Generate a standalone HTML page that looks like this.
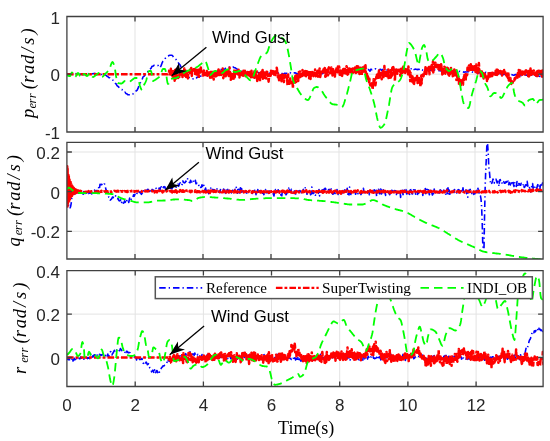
<!DOCTYPE html><html><head><meta charset="utf-8"><style>html,body{margin:0;padding:0;background:#fff}svg{display:block}.tl{font-family:"Liberation Sans",Arial,sans-serif;font-size:17px;fill:#262626}.an{font-family:"Liberation Sans",Arial,sans-serif;font-size:16.7px;fill:#000}.sf{font-family:"Liberation Serif","Times New Roman",serif;fill:#000}</style></head><body>
<svg width="550" height="441" viewBox="0 0 550 441">
<rect width="550" height="441" fill="#fff"/>
<defs>
<clipPath id="c0"><rect x="66.9" y="16.5" width="476.20000000000005" height="115.5"/></clipPath>
<clipPath id="c1"><rect x="66.9" y="142.3" width="476.20000000000005" height="116.69999999999999"/></clipPath>
<clipPath id="c2"><rect x="66.9" y="270.6" width="476.20000000000005" height="115.89999999999998"/></clipPath>
</defs>
<path d="M135.0 16.5V132.0M203.0 16.5V132.0M271.0 16.5V132.0M339.0 16.5V132.0M407.0 16.5V132.0M475.0 16.5V132.0M66.9 74.2H543.1" stroke="#e3e3e3" stroke-width="1" fill="none"/>
<path d="M135.0 142.3V259.0M203.0 142.3V259.0M271.0 142.3V259.0M339.0 142.3V259.0M407.0 142.3V259.0M475.0 142.3V259.0M66.9 152.0H543.1M66.9 191.7H543.1M66.9 231.3H543.1" stroke="#e3e3e3" stroke-width="1" fill="none"/>
<path d="M135.2 270.6V386.5M203.4 270.6V386.5M271.5 270.6V386.5M339.7 270.6V386.5M407.9 270.6V386.5M476.1 270.6V386.5M66.9 314.1H543.1M66.9 357.5H543.1" stroke="#e3e3e3" stroke-width="1" fill="none"/>
<path clip-path="url(#c0)" d="M67.0 74.3L68.0 74.8L69.0 74.8L70.0 74.1L71.0 74.2L72.0 74.1L73.0 74.5L74.0 74.3L75.0 74.6L76.0 73.6L77.0 74.9L78.0 74.3L79.0 74.6L80.0 74.2L81.0 74.1L82.0 74.5L83.0 74.6L84.0 74.2L85.0 74.2L86.0 74.5L87.0 73.8L88.0 73.5L89.0 74.3L90.0 73.8L91.0 73.3L92.0 73.7L93.0 73.8L94.0 73.5L95.0 73.4L96.0 74.0L97.0 74.4L98.0 74.0L99.0 73.8L100.0 74.4L101.0 74.6L102.0 74.3L103.0 74.7L104.0 75.1L105.0 75.0L106.0 75.2L107.0 76.2L108.0 76.8L109.0 77.8L110.0 77.7L111.0 78.7L112.0 79.6L113.0 80.2L114.0 82.0L115.0 83.2L116.0 83.7L117.0 85.6L118.0 86.4L119.0 87.3L120.0 88.2L121.0 89.4L122.0 89.5L123.0 91.3L124.0 92.2L125.0 92.1L126.0 93.6L127.0 93.9L128.0 94.8L129.0 94.7L130.0 95.0L131.0 95.0L132.0 94.0L133.0 93.9L134.0 93.0L135.0 92.4L136.0 91.0L137.0 90.4L138.0 88.4L139.0 85.5L140.0 83.3L141.0 81.5L142.0 79.9L143.0 76.9L144.0 76.4L145.0 74.8L146.0 73.3L147.0 71.7L148.0 71.5L149.0 69.4L150.0 69.0L151.0 68.3L152.0 66.4L153.0 66.3L154.0 65.3L155.0 65.5L156.0 65.7L157.0 65.9L158.0 65.4L159.0 67.2L160.0 67.6L161.0 65.9L162.0 63.2L163.0 61.2L164.0 60.2L165.0 58.8L166.0 57.5L167.0 56.2L168.0 56.0L169.0 55.6L170.0 55.2L171.0 55.2L172.0 55.3L173.0 56.3L174.0 58.0L175.0 58.7L176.0 59.4L177.0 61.5L178.0 62.1L179.0 63.8L180.0 64.8L181.0 66.8L182.0 68.4L183.0 71.3L184.0 73.4L185.0 73.5L186.0 74.7L187.0 76.2L188.0 76.5L189.0 77.4L190.0 77.9L191.0 78.4L192.0 79.1L193.0 78.9L194.0 79.4L195.0 78.8L196.0 78.8L197.0 77.3L198.0 77.0L199.0 77.3L200.0 76.2L201.0 75.9L202.0 75.2L203.0 74.9L204.0 74.3L205.0 74.2L206.0 73.5L207.0 73.2L208.0 73.0L209.0 73.0L210.0 72.5L211.0 72.6L212.0 72.5L213.0 72.5L214.0 72.0L215.0 71.1L216.0 71.6L217.0 71.4L218.0 71.4L219.0 70.9L220.0 70.0L221.0 69.5L222.0 70.1L223.0 69.2L224.0 69.2L225.0 69.0L226.0 67.4L227.0 67.5L228.0 67.3L229.0 67.2L230.0 67.3L231.0 67.2L232.0 67.4L233.0 66.9L234.0 67.7L235.0 67.7L236.0 68.5L237.0 68.9L238.0 70.1L239.0 70.9L240.0 71.1L241.0 71.4L242.0 71.5L243.0 71.5L244.0 71.8L245.0 71.8L246.0 72.3L247.0 72.3L248.0 72.6L249.0 71.9L250.0 72.9L251.0 72.2L252.0 72.3L253.0 72.5L254.0 72.4L255.0 72.8L256.0 72.5L257.0 72.3L258.0 72.4L259.0 73.3L260.0 72.8L261.0 72.4L262.0 72.9L263.0 72.3L264.0 73.6L265.0 72.3L266.0 73.1L267.0 73.2L268.0 72.4L269.0 73.1L270.0 73.4L271.0 73.2L272.0 73.1L273.0 73.4L274.0 73.1L275.0 73.2L276.0 73.1L277.0 73.4L278.0 72.8L279.0 73.5L280.0 73.0L281.0 72.8L282.0 73.4L283.0 74.0L284.0 73.7L285.0 73.1L286.0 73.6L287.0 73.2L288.0 73.3L289.0 73.4L290.0 72.5L291.0 73.5L292.0 73.0L293.0 73.2L294.0 72.9L295.0 72.9L296.0 73.1L297.0 73.8L298.0 74.2L299.0 73.5L300.0 73.9L301.0 73.4L302.0 72.7L303.0 73.5L304.0 73.7L305.0 73.3L306.0 73.6L307.0 73.7L308.0 73.1L309.0 72.8L310.0 73.3L311.0 73.2L312.0 73.1L313.0 73.6L314.0 73.9L315.0 73.0L316.0 73.4L317.0 73.5L318.0 73.3L319.0 73.4L320.0 72.8L321.0 73.2L322.0 73.7L323.0 73.2L324.0 72.5L325.0 73.0L326.0 73.2L327.0 72.8L328.0 72.4L329.0 73.2L330.0 72.0L331.0 72.7L332.0 72.4L333.0 71.9L334.0 72.7L335.0 72.3L336.0 71.6L337.0 72.3L338.0 71.8L339.0 71.1L340.0 71.5L341.0 71.8L342.0 71.9L343.0 71.6L344.0 71.5L345.0 71.5L346.0 71.2L347.0 71.7L348.0 71.2L349.0 71.2L350.0 71.2L351.0 70.5L352.0 70.6L353.0 71.4L354.0 70.9L355.0 70.6L356.0 70.7L357.0 70.4L358.0 70.6L359.0 70.1L360.0 70.5L361.0 69.6L362.0 70.7L363.0 69.9L364.0 69.5L365.0 69.9L366.0 69.8L367.0 70.0L368.0 69.4L369.0 70.0L370.0 71.2L371.0 69.2L372.0 69.8L373.0 69.5L374.0 69.7L375.0 68.8L376.0 69.1L377.0 69.7L378.0 69.5L379.0 70.2L380.0 69.2L381.0 69.6L382.0 70.7L383.0 69.2L384.0 69.2L385.0 69.6L386.0 69.6L387.0 70.0L388.0 69.7L389.0 69.4L390.0 69.8L391.0 70.8L392.0 70.3L393.0 68.7L394.0 69.8L395.0 69.6L396.0 70.2L397.0 69.9L398.0 70.8L399.0 70.4L400.0 70.4L401.0 70.0L402.0 69.9L403.0 69.9L404.0 70.2L405.0 69.7L406.0 69.2L407.0 69.7L408.0 69.2L409.0 69.0L410.0 68.7L411.0 68.8L412.0 68.8L413.0 67.9L414.0 69.5L415.0 69.3L416.0 69.1L417.0 69.6L418.0 69.4L419.0 69.5L420.0 68.4L421.0 69.3L422.0 69.7L423.0 70.2L424.0 70.4L425.0 70.3L426.0 69.3L427.0 69.0L428.0 70.1L429.0 70.0L430.0 70.4L431.0 70.0L432.0 70.2L433.0 69.6L434.0 70.4L435.0 70.1L436.0 70.4L437.0 70.5L438.0 70.4L439.0 70.6L440.0 70.5L441.0 70.9L442.0 70.8L443.0 70.4L444.0 70.5L445.0 71.4L446.0 70.8L447.0 71.2L448.0 71.1L449.0 70.7L450.0 70.7L451.0 71.1L452.0 71.2L453.0 71.4L454.0 70.7L455.0 71.0L456.0 71.3L457.0 72.0L458.0 70.5L459.0 71.6L460.0 71.3L461.0 71.7L462.0 71.4L463.0 71.8L464.0 72.3L465.0 71.9L466.0 72.0L467.0 72.0L468.0 71.6L469.0 72.1L470.0 71.9L471.0 71.7L472.0 72.1L473.0 72.0L474.0 72.5L475.0 72.2L476.0 72.1L477.0 72.9L478.0 72.8L479.0 72.9L480.0 72.7L481.0 72.5L482.0 72.5L483.0 72.6L484.0 73.2L485.0 72.9L486.0 72.3L487.0 73.0L488.0 72.5L489.0 73.2L490.0 72.8L491.0 72.8L492.0 73.5L493.0 73.5L494.0 72.9L495.0 74.0L496.0 74.6L497.0 73.2L498.0 74.6L499.0 73.7L500.0 73.8L501.0 74.0L502.0 73.5L503.0 74.7L504.0 74.4L505.0 74.0L506.0 74.2L507.0 73.8L508.0 74.3L509.0 74.9L510.0 73.8L511.0 74.4L512.0 74.7L513.0 75.1L514.0 75.3L515.0 74.6L516.0 74.5L517.0 75.0L518.0 74.8L519.0 74.8L520.0 75.4L521.0 75.7L522.0 75.2L523.0 75.1L524.0 75.4L525.0 74.5L526.0 75.3L527.0 74.9L528.0 76.3L529.0 75.7L530.0 75.5L531.0 75.4L532.0 74.5L533.0 75.9L534.0 76.3L535.0 75.4L536.0 76.0L537.0 76.0L538.0 75.2L539.0 76.2L540.0 76.4L541.0 76.0L542.0 75.9L543.0 76.3L544.0 75.4" stroke="#0000ff" stroke-width="1.6" fill="none" stroke-dasharray="6.5 3 1.3 3" stroke-linejoin="round"/>
<path clip-path="url(#c0)" d="M67.0 74.3L67.3 74.3L67.6 74.3L67.9 74.3L68.2 74.3L68.5 74.3L68.8 74.3L69.1 74.3L69.4 74.3L69.7 74.3L70.0 74.3L70.3 74.3L70.6 74.3L70.9 74.3L71.2 74.3L71.5 74.3L71.8 74.3L72.1 74.3L72.4 74.3L72.7 74.3L73.0 74.3L73.3 74.3L73.6 74.3L73.9 74.3L74.2 74.3L74.5 74.3L74.8 74.3L75.1 74.3L75.4 74.3L75.7 74.3L76.0 74.3L76.3 74.3L76.6 74.3L76.9 74.3L77.2 74.3L77.5 74.3L77.8 74.3L78.1 74.3L78.4 74.3L78.7 74.3L79.0 74.3L79.3 74.3L79.6 74.3L79.9 74.3L80.2 74.3L80.5 74.3L80.8 74.3L81.1 74.3L81.4 74.3L81.7 74.3L82.0 74.3L82.3 74.3L82.6 74.3L82.9 74.3L83.2 74.3L83.5 74.3L83.8 74.3L84.1 74.3L84.4 74.3L84.7 74.3L85.0 74.3L85.3 74.3L85.6 74.3L85.9 74.3L86.2 74.3L86.5 74.3L86.8 74.3L87.1 74.3L87.4 74.3L87.7 74.3L88.0 74.3L88.3 74.3L88.6 74.3L88.9 74.3L89.2 74.3L89.5 74.3L89.8 74.3L90.1 74.3L90.4 74.3L90.7 74.3L91.0 74.3L91.3 74.3L91.6 74.3L91.9 74.3L92.2 74.3L92.5 74.3L92.8 74.3L93.1 74.3L93.4 74.3L93.7 74.3L94.0 74.3L94.3 74.3L94.6 74.3L94.9 74.3L95.2 74.3L95.5 74.3L95.8 74.3L96.1 74.3L96.4 74.3L96.7 74.3L97.0 74.3L97.3 74.3L97.6 74.3L97.9 74.3L98.2 74.3L98.5 74.3L98.8 74.3L99.1 74.3L99.4 74.3L99.7 74.3L100.0 74.3L100.3 74.3L100.6 74.3L100.9 74.3L101.2 74.3L101.5 74.3L101.8 74.3L102.1 74.3L102.4 74.3L102.7 74.3L103.0 74.3L103.3 74.3L103.6 74.3L103.9 74.3L104.2 74.3L104.5 74.3L104.8 74.3L105.1 74.3L105.4 74.3L105.7 74.3L106.0 74.3L106.3 74.3L106.6 74.3L106.9 74.3L107.2 74.3L107.5 74.3L107.8 74.3L108.1 74.3L108.4 74.3L108.7 74.3L109.0 74.3L109.3 74.3L109.6 74.3L109.9 74.3L110.2 74.3L110.5 74.3L110.8 74.3L111.1 74.3L111.4 74.3L111.7 74.3L112.0 74.3L112.3 74.3L112.6 74.3L112.9 74.3L113.2 74.3L113.5 74.3L113.8 74.3L114.1 74.3L114.4 74.3L114.7 74.3L115.0 74.3L115.3 74.3L115.6 74.3L115.9 74.3L116.2 74.3L116.5 74.3L116.8 74.3L117.1 74.3L117.4 74.3L117.7 74.3L118.0 74.3L118.3 74.3L118.6 74.3L118.9 74.3L119.2 74.3L119.5 74.3L119.8 74.3L120.1 74.3L120.4 74.3L120.7 74.3L121.0 74.3L121.3 74.3L121.6 74.3L121.9 74.3L122.2 74.3L122.5 74.3L122.8 74.3L123.1 74.3L123.4 74.3L123.7 74.3L124.0 74.3L124.3 74.3L124.6 74.3L124.9 74.3L125.2 74.3L125.5 74.3L125.8 74.3L126.1 74.3L126.4 74.3L126.7 74.3L127.0 74.3L127.3 74.3L127.6 74.3L127.9 74.3L128.2 74.3L128.5 74.3L128.8 74.3L129.1 74.3L129.4 74.3L129.7 74.3L130.0 74.3L130.3 74.3L130.6 74.3L130.9 74.3L131.2 74.3L131.5 74.3L131.8 74.3L132.1 74.3L132.4 74.3L132.7 74.3L133.0 74.3L133.3 74.3L133.6 74.3L133.9 74.3L134.2 74.3L134.5 74.3L134.8 74.3L135.1 74.3L135.4 74.3L135.7 74.3L136.0 74.3L136.3 74.3L136.6 74.3L136.9 74.3L137.2 74.3L137.5 74.3L137.8 74.3L138.1 74.3L138.4 74.3L138.7 74.3L139.0 74.3L139.3 74.3L139.6 74.3L139.9 74.3L140.2 74.3L140.5 74.3L140.8 74.3L141.1 74.3L141.4 74.3L141.7 74.3L142.0 74.3L142.3 74.3L142.6 74.3L142.9 74.3L143.2 74.3L143.5 74.3L143.8 74.3L144.1 74.3L144.4 74.3L144.7 74.3L145.0 74.3L145.3 74.3L145.6 74.3L145.9 74.3L146.2 74.3L146.5 74.3L146.8 74.3L147.1 74.3L147.4 74.3L147.7 74.3L148.0 74.3L148.3 74.3L148.6 74.3L148.9 74.3L149.2 74.3L149.5 74.3L149.8 74.3L150.1 74.3L150.4 74.3L150.7 74.3L151.0 74.3L151.3 74.3L151.6 74.3L151.9 74.3L152.2 74.3L152.5 74.3L152.8 74.3L153.1 74.3L153.4 74.3L153.7 74.3L154.0 74.3L154.3 74.3L154.6 74.3L154.9 74.3L155.2 74.3L155.5 74.3L155.8 74.3L156.1 74.3L156.4 74.3L156.7 74.3L157.0 74.3L157.3 74.3L157.6 74.3L157.9 74.3L158.2 74.3L158.5 74.3L158.8 74.3L159.1 74.3L159.4 74.3L159.7 74.3L160.0 74.3L160.3 74.3L160.6 74.3L160.9 74.3L161.2 74.3L161.5 74.3L161.8 74.3L162.1 74.3L162.4 74.3L162.7 74.3L163.0 74.3L163.3 74.3L163.6 74.3L163.9 74.3L164.2 74.3L164.5 74.3L164.8 74.3L165.1 74.3L165.4 74.3L165.7 74.3L166.0 74.3L166.3 74.3L166.6 74.3L166.9 74.3L167.2 74.3L167.5 74.3L167.8 74.3L168.1 74.0L168.4 73.8L168.7 73.7L169.0 72.3L169.3 69.7L169.6 70.8L169.9 74.4L170.2 74.5L170.5 70.3L170.8 68.8L171.1 70.9L171.4 71.4L171.7 70.5L172.0 71.2L172.3 74.3L172.6 76.5L172.9 69.0L173.2 77.8L173.5 76.3L173.8 78.8L174.1 75.8L174.4 76.9L174.7 80.8L175.0 70.1L175.3 79.9L175.6 76.2L175.9 72.0L176.2 69.5L176.5 76.8L176.8 74.1L177.1 78.7L177.4 77.8L177.7 75.9L178.0 78.1L178.3 76.0L178.6 77.4L178.9 76.7L179.2 75.1L179.5 77.0L179.8 76.6L180.1 72.2L180.4 74.4L180.7 74.2L181.0 73.9L181.3 71.8L181.6 74.0L181.9 75.2L182.2 74.3L182.5 77.1L182.8 72.0L183.1 71.9L183.4 72.0L183.7 71.9L184.0 71.9L184.3 68.4L184.6 72.9L184.9 75.2L185.2 75.9L185.5 70.6L185.8 72.3L186.1 76.9L186.4 72.5L186.7 73.7L187.0 73.2L187.3 75.3L187.6 75.2L187.9 78.4L188.2 73.4L188.5 74.0L188.8 71.2L189.1 73.0L189.4 71.2L189.7 71.5L190.0 69.9L190.3 74.5L190.6 68.1L190.9 71.0L191.2 67.9L191.5 72.3L191.8 76.0L192.1 68.9L192.4 71.4L192.7 69.9L193.0 70.3L193.3 71.3L193.6 69.3L193.9 70.0L194.2 69.3L194.5 69.1L194.8 69.0L195.1 73.8L195.4 70.3L195.7 73.1L196.0 73.2L196.3 69.7L196.6 74.6L196.9 70.2L197.2 74.6L197.5 76.1L197.8 70.5L198.1 69.8L198.4 70.1L198.7 78.0L199.0 71.9L199.3 69.5L199.6 74.1L199.9 71.5L200.2 72.2L200.5 70.0L200.8 67.4L201.1 70.9L201.4 70.3L201.7 69.7L202.0 70.7L202.3 71.2L202.6 75.5L202.9 74.9L203.2 75.4L203.5 73.0L203.8 70.6L204.1 74.7L204.4 75.4L204.7 77.0L205.0 74.4L205.3 73.8L205.6 74.9L205.9 71.2L206.2 71.5L206.5 74.9L206.8 71.0L207.1 73.5L207.4 75.8L207.7 73.7L208.0 73.7L208.3 70.6L208.6 73.7L208.9 73.8L209.2 74.9L209.5 73.8L209.8 72.6L210.1 77.7L210.4 74.2L210.7 72.4L211.0 71.9L211.3 73.5L211.6 72.2L211.9 77.4L212.2 75.4L212.5 73.4L212.8 72.5L213.1 71.9L213.4 74.5L213.7 79.5L214.0 77.5L214.3 75.4L214.6 75.8L214.9 70.4L215.2 76.1L215.5 73.4L215.8 76.5L216.1 72.5L216.4 72.2L216.7 73.2L217.0 71.0L217.3 75.5L217.6 72.5L217.9 72.1L218.2 71.2L218.5 69.4L218.8 72.3L219.1 70.8L219.4 75.1L219.7 70.8L220.0 71.1L220.3 69.8L220.6 70.5L220.9 71.1L221.2 74.9L221.5 72.7L221.8 74.4L222.1 71.8L222.4 72.2L222.7 68.6L223.0 74.4L223.3 78.2L223.6 72.8L223.9 76.0L224.2 75.1L224.5 72.3L224.8 75.9L225.1 71.3L225.4 72.7L225.7 76.3L226.0 74.2L226.3 70.3L226.6 75.5L226.9 69.9L227.2 72.1L227.5 72.0L227.8 73.1L228.1 70.7L228.4 68.3L228.7 76.0L229.0 70.6L229.3 70.6L229.6 67.6L229.9 72.0L230.2 75.0L230.5 75.9L230.8 79.8L231.1 76.5L231.4 75.2L231.7 73.8L232.0 77.8L232.3 75.3L232.6 75.7L232.9 72.1L233.2 75.8L233.5 80.1L233.8 74.6L234.1 75.9L234.4 68.7L234.7 77.4L235.0 74.4L235.3 75.5L235.6 73.2L235.9 70.4L236.2 69.2L236.5 73.6L236.8 72.3L237.1 69.7L237.4 72.1L237.7 71.2L238.0 74.4L238.3 71.7L238.6 69.8L238.9 73.3L239.2 72.9L239.5 77.4L239.8 73.2L240.1 71.5L240.4 74.7L240.7 74.1L241.0 75.5L241.3 75.1L241.6 72.6L241.9 75.1L242.2 75.2L242.5 73.0L242.8 74.6L243.1 75.7L243.4 70.8L243.7 72.0L244.0 73.1L244.3 74.4L244.6 75.3L244.9 70.7L245.2 73.7L245.5 74.4L245.8 76.3L246.1 72.5L246.4 71.4L246.7 70.8L247.0 75.1L247.3 75.8L247.6 72.0L247.9 74.9L248.2 76.7L248.5 76.5L248.8 72.3L249.1 75.7L249.4 74.3L249.7 71.9L250.0 76.0L250.3 76.2L250.6 72.6L250.9 76.0L251.2 79.3L251.5 70.8L251.8 76.1L252.1 76.6L252.4 74.5L252.7 75.1L253.0 73.0L253.3 77.2L253.6 73.1L253.9 75.0L254.2 71.6L254.5 77.8L254.8 77.6L255.1 72.3L255.4 73.5L255.7 76.3L256.0 74.4L256.3 72.6L256.6 70.3L256.9 76.3L257.2 80.9L257.5 75.0L257.8 76.9L258.1 76.8L258.4 75.4L258.7 75.7L259.0 76.0L259.3 73.6L259.6 81.5L259.9 81.5L260.2 75.4L260.5 78.0L260.8 72.4L261.1 73.3L261.4 76.7L261.7 71.6L262.0 71.3L262.3 75.0L262.6 70.0L262.9 78.8L263.2 77.5L263.5 76.1L263.8 76.8L264.1 72.4L264.4 73.6L264.7 77.2L265.0 77.9L265.3 76.4L265.6 75.2L265.9 73.7L266.2 78.5L266.5 71.8L266.8 72.5L267.1 73.3L267.4 71.9L267.7 72.5L268.0 73.5L268.3 78.8L268.6 81.7L268.9 78.2L269.2 73.1L269.5 75.3L269.8 75.9L270.1 74.7L270.4 74.3L270.7 75.8L271.0 70.8L271.3 73.9L271.6 74.1L271.9 74.8L272.2 74.1L272.5 73.2L272.8 72.5L273.1 71.1L273.4 72.5L273.7 72.3L274.0 71.0L274.3 75.0L274.6 75.6L274.9 71.5L275.2 74.1L275.5 75.0L275.8 72.8L276.1 72.4L276.4 72.8L276.7 67.7L277.0 69.3L277.3 73.4L277.6 74.2L277.9 77.3L278.2 74.0L278.5 77.4L278.8 78.0L279.1 80.3L279.4 75.1L279.7 75.8L280.0 78.0L280.3 77.6L280.6 75.4L280.9 76.1L281.2 73.7L281.5 81.2L281.8 75.5L282.1 76.6L282.4 74.5L282.7 75.6L283.0 77.4L283.3 75.0L283.6 76.0L283.9 82.1L284.2 79.1L284.5 76.8L284.8 75.8L285.1 76.6L285.4 75.0L285.7 77.6L286.0 76.5L286.3 77.3L286.6 78.2L286.9 76.6L287.2 80.0L287.5 85.1L287.8 77.1L288.1 74.6L288.4 81.5L288.7 79.0L289.0 83.8L289.3 81.3L289.6 83.7L289.9 80.8L290.2 78.6L290.5 82.2L290.8 85.0L291.1 82.1L291.4 80.1L291.7 82.2L292.0 82.0L292.3 81.8L292.6 82.6L292.9 88.2L293.2 82.0L293.5 80.9L293.8 79.4L294.1 84.1L294.4 77.9L294.7 84.6L295.0 79.5L295.3 76.1L295.6 79.9L295.9 79.3L296.2 82.0L296.5 75.3L296.8 78.7L297.1 78.5L297.4 79.6L297.7 74.5L298.0 75.3L298.3 81.0L298.6 77.0L298.9 71.9L299.2 76.1L299.5 74.3L299.8 74.0L300.1 71.5L300.4 77.1L300.7 73.6L301.0 75.6L301.3 75.3L301.6 71.5L301.9 72.1L302.2 76.0L302.5 70.0L302.8 74.6L303.1 72.7L303.4 75.2L303.7 75.2L304.0 74.2L304.3 72.6L304.6 73.2L304.9 71.2L305.2 71.0L305.5 75.7L305.8 72.0L306.1 76.3L306.4 74.8L306.7 71.2L307.0 74.6L307.3 71.5L307.6 74.9L307.9 72.0L308.2 74.8L308.5 74.3L308.8 71.7L309.1 78.2L309.4 76.1L309.7 70.6L310.0 75.2L310.3 73.5L310.6 79.0L310.9 73.7L311.2 74.7L311.5 73.6L311.8 74.7L312.1 72.0L312.4 72.1L312.7 73.5L313.0 73.0L313.3 76.2L313.6 73.9L313.9 72.6L314.2 73.4L314.5 72.6L314.8 75.1L315.1 69.5L315.4 72.7L315.7 76.3L316.0 72.9L316.3 73.2L316.6 74.4L316.9 71.5L317.2 71.6L317.5 73.9L317.8 70.7L318.1 76.7L318.4 73.4L318.7 73.1L319.0 73.0L319.3 73.6L319.6 68.6L319.9 75.0L320.2 77.0L320.5 75.5L320.8 72.7L321.1 74.6L321.4 73.9L321.7 71.8L322.0 72.2L322.3 74.3L322.6 73.3L322.9 70.5L323.2 71.1L323.5 71.2L323.8 68.1L324.1 71.7L324.4 71.7L324.7 68.0L325.0 68.5L325.3 76.8L325.6 73.0L325.9 76.3L326.2 71.5L326.5 75.6L326.8 72.4L327.1 70.0L327.4 71.1L327.7 74.2L328.0 75.3L328.3 70.7L328.6 68.1L328.9 67.4L329.2 71.4L329.5 73.2L329.8 71.8L330.1 71.3L330.4 72.8L330.7 72.8L331.0 71.8L331.3 67.4L331.6 69.8L331.9 74.6L332.2 70.4L332.5 75.5L332.8 70.8L333.1 69.2L333.4 71.2L333.7 72.7L334.0 70.0L334.3 72.3L334.6 71.7L334.9 76.6L335.2 71.1L335.5 72.6L335.8 68.9L336.1 68.6L336.4 71.8L336.7 69.5L337.0 70.4L337.3 71.8L337.6 72.2L337.9 66.6L338.2 69.7L338.5 70.8L338.8 68.3L339.1 66.6L339.4 68.2L339.7 74.7L340.0 71.3L340.3 74.9L340.6 70.5L340.9 74.8L341.2 69.0L341.5 71.4L341.8 72.4L342.1 75.9L342.4 72.1L342.7 73.7L343.0 69.7L343.3 69.1L343.6 72.9L343.9 73.3L344.2 72.0L344.5 72.2L344.8 67.3L345.1 75.0L345.4 70.2L345.7 73.5L346.0 72.0L346.3 66.4L346.6 66.3L346.9 67.5L347.2 71.4L347.5 74.7L347.8 71.1L348.1 74.2L348.4 68.7L348.7 70.0L349.0 69.3L349.3 71.7L349.6 68.6L349.9 70.7L350.2 72.3L350.5 70.2L350.8 69.2L351.1 70.5L351.4 68.2L351.7 69.5L352.0 73.8L352.3 72.9L352.6 68.4L352.9 71.9L353.2 72.7L353.5 72.3L353.8 71.8L354.1 71.2L354.4 68.3L354.7 68.1L355.0 67.5L355.3 71.4L355.6 70.2L355.9 73.0L356.2 72.3L356.5 68.5L356.8 66.2L357.1 66.3L357.4 68.8L357.7 72.1L358.0 67.8L358.3 66.5L358.6 71.5L358.9 73.0L359.2 72.2L359.5 74.1L359.8 70.4L360.1 69.7L360.4 70.0L360.7 67.8L361.0 69.7L361.3 74.2L361.6 75.8L361.9 72.8L362.2 70.0L362.5 68.5L362.8 70.8L363.1 66.2L363.4 72.5L363.7 73.4L364.0 70.9L364.3 70.1L364.6 66.3L364.9 73.2L365.2 73.0L365.5 65.2L365.8 71.8L366.1 75.0L366.4 77.7L366.7 72.0L367.0 75.1L367.3 79.0L367.6 76.9L367.9 76.4L368.2 77.8L368.5 80.1L368.8 78.8L369.1 83.6L369.4 78.8L369.7 82.5L370.0 84.3L370.3 85.3L370.6 83.8L370.9 83.2L371.2 83.7L371.5 83.4L371.8 86.3L372.1 83.5L372.4 87.9L372.7 89.6L373.0 81.5L373.3 83.7L373.6 79.2L373.9 84.1L374.2 83.1L374.5 81.0L374.8 79.4L375.1 80.7L375.4 85.3L375.7 83.4L376.0 80.3L376.3 76.6L376.6 77.8L376.9 75.0L377.2 74.5L377.5 75.0L377.8 79.6L378.1 77.7L378.4 76.4L378.7 72.9L379.0 70.6L379.3 75.8L379.6 73.1L379.9 77.4L380.2 72.3L380.5 77.1L380.8 75.3L381.1 73.7L381.4 73.0L381.7 79.3L382.0 76.3L382.3 74.0L382.6 74.3L382.9 71.3L383.2 78.8L383.5 77.0L383.8 71.7L384.1 74.0L384.4 66.0L384.7 74.8L385.0 74.0L385.3 74.5L385.6 75.8L385.9 74.7L386.2 71.9L386.5 72.8L386.8 72.9L387.1 76.3L387.4 73.9L387.7 72.1L388.0 75.2L388.3 69.4L388.6 78.1L388.9 73.7L389.2 71.4L389.5 74.3L389.8 77.2L390.1 76.3L390.4 79.1L390.7 70.2L391.0 77.2L391.3 73.0L391.6 74.6L391.9 75.8L392.2 68.3L392.5 67.6L392.8 70.5L393.1 68.3L393.4 67.1L393.7 72.2L394.0 75.6L394.3 71.9L394.6 73.3L394.9 81.2L395.2 71.9L395.5 69.8L395.8 69.9L396.1 71.3L396.4 69.4L396.7 72.0L397.0 71.1L397.3 73.8L397.6 72.3L397.9 71.0L398.2 69.6L398.5 68.6L398.8 70.5L399.1 69.7L399.4 71.4L399.7 70.6L400.0 70.0L400.3 75.7L400.6 70.7L400.9 74.2L401.2 67.5L401.5 71.9L401.8 72.4L402.1 70.8L402.4 67.2L402.7 72.8L403.0 67.8L403.3 65.3L403.6 65.2L403.9 69.3L404.2 68.2L404.5 71.9L404.8 71.1L405.1 72.9L405.4 69.8L405.7 69.3L406.0 69.4L406.3 68.1L406.6 67.9L406.9 68.9L407.2 71.7L407.5 69.2L407.8 71.4L408.1 74.5L408.4 66.5L408.7 70.1L409.0 70.6L409.3 73.2L409.6 70.9L409.9 73.1L410.2 81.1L410.5 72.7L410.8 76.7L411.1 78.6L411.4 78.5L411.7 76.1L412.0 81.4L412.3 74.9L412.6 77.5L412.9 79.2L413.2 78.1L413.5 83.1L413.8 79.8L414.1 84.0L414.4 78.8L414.7 82.4L415.0 79.0L415.3 78.1L415.6 78.7L415.9 82.0L416.2 78.8L416.5 79.9L416.8 78.8L417.1 76.0L417.4 82.5L417.7 83.0L418.0 77.9L418.3 82.7L418.6 80.5L418.9 76.5L419.2 78.2L419.5 81.6L419.8 82.4L420.1 80.6L420.4 87.1L420.7 80.5L421.0 77.6L421.3 75.6L421.6 83.8L421.9 78.5L422.2 77.6L422.5 75.2L422.8 74.6L423.1 75.4L423.4 76.4L423.7 75.6L424.0 74.2L424.3 75.5L424.6 72.0L424.9 70.0L425.2 71.7L425.5 67.2L425.8 75.3L426.1 74.4L426.4 73.8L426.7 69.0L427.0 70.6L427.3 70.5L427.6 66.7L427.9 66.8L428.2 67.9L428.5 68.2L428.8 67.1L429.1 70.8L429.4 74.3L429.7 69.8L430.0 66.9L430.3 66.6L430.6 71.2L430.9 68.2L431.2 67.8L431.5 67.0L431.8 64.9L432.1 70.5L432.4 66.0L432.7 66.3L433.0 61.2L433.3 72.4L433.6 69.2L433.9 67.2L434.2 65.5L434.5 65.4L434.8 61.6L435.1 66.1L435.4 62.7L435.7 64.8L436.0 64.7L436.3 69.1L436.6 64.5L436.9 66.1L437.2 65.8L437.5 63.7L437.8 63.8L438.1 65.8L438.4 69.2L438.7 68.2L439.0 65.3L439.3 68.7L439.6 65.4L439.9 63.4L440.2 71.7L440.5 67.9L440.8 66.4L441.1 64.3L441.4 66.0L441.7 70.8L442.0 67.5L442.3 74.4L442.6 69.9L442.9 73.9L443.2 70.9L443.5 68.8L443.8 69.2L444.1 69.6L444.4 66.7L444.7 67.1L445.0 71.0L445.3 73.7L445.6 71.3L445.9 70.6L446.2 68.3L446.5 73.2L446.8 73.3L447.1 67.7L447.4 70.3L447.7 69.7L448.0 66.7L448.3 74.5L448.6 73.5L448.9 72.7L449.2 75.7L449.5 70.7L449.8 72.3L450.1 74.0L450.4 69.9L450.7 71.5L451.0 68.1L451.3 72.7L451.6 74.2L451.9 69.3L452.2 69.6L452.5 72.3L452.8 76.3L453.1 71.1L453.4 70.3L453.7 72.7L454.0 75.5L454.3 69.5L454.6 72.7L454.9 75.3L455.2 72.5L455.5 71.8L455.8 75.1L456.1 70.4L456.4 79.9L456.7 76.7L457.0 75.8L457.3 77.3L457.6 77.8L457.9 77.7L458.2 76.2L458.5 80.7L458.8 77.1L459.1 85.6L459.4 79.5L459.7 81.0L460.0 80.3L460.3 83.8L460.6 80.4L460.9 85.2L461.2 80.4L461.5 82.0L461.8 80.5L462.1 80.6L462.4 84.7L462.7 84.5L463.0 84.6L463.3 77.4L463.6 82.0L463.9 76.7L464.2 76.5L464.5 74.8L464.8 77.1L465.1 80.1L465.4 81.2L465.7 80.8L466.0 74.1L466.3 74.2L466.6 76.0L466.9 75.2L467.2 74.6L467.5 67.8L467.8 70.6L468.1 72.2L468.4 70.6L468.7 68.2L469.0 65.5L469.3 66.2L469.6 70.0L469.9 67.2L470.2 68.6L470.5 70.4L470.8 64.3L471.1 68.9L471.4 67.8L471.7 71.0L472.0 67.1L472.3 66.8L472.6 66.4L472.9 69.0L473.2 68.1L473.5 68.9L473.8 69.8L474.1 68.0L474.4 66.2L474.7 67.8L475.0 67.6L475.3 70.4L475.6 71.9L475.9 69.0L476.2 64.6L476.5 71.5L476.8 70.0L477.1 68.8L477.4 69.6L477.7 73.5L478.0 66.7L478.3 67.7L478.6 69.1L478.9 63.1L479.2 68.5L479.5 71.4L479.8 71.0L480.1 71.2L480.4 70.3L480.7 71.3L481.0 77.5L481.3 73.1L481.6 76.1L481.9 71.6L482.2 74.4L482.5 75.1L482.8 75.2L483.1 71.6L483.4 74.8L483.7 78.6L484.0 77.2L484.3 75.5L484.6 78.9L484.9 74.0L485.2 78.2L485.5 78.0L485.8 77.1L486.1 75.7L486.4 74.3L486.7 77.3L487.0 81.1L487.3 79.3L487.6 78.3L487.9 78.9L488.2 75.7L488.5 77.5L488.8 71.3L489.1 75.6L489.4 74.9L489.7 75.4L490.0 74.8L490.3 76.4L490.6 73.5L490.9 75.7L491.2 72.9L491.5 76.1L491.8 75.2L492.1 76.1L492.4 75.6L492.7 72.8L493.0 73.9L493.3 72.0L493.6 74.1L493.9 74.0L494.2 72.5L494.5 72.4L494.8 74.3L495.1 74.6L495.4 74.8L495.7 70.7L496.0 71.0L496.3 73.2L496.6 72.8L496.9 68.2L497.2 74.9L497.5 74.1L497.8 70.0L498.1 74.0L498.4 70.9L498.7 72.1L499.0 71.0L499.3 71.4L499.6 72.4L499.9 72.7L500.2 71.0L500.5 72.7L500.8 71.5L501.1 72.1L501.4 71.6L501.7 71.5L502.0 75.6L502.3 69.8L502.6 70.8L502.9 73.0L503.2 72.4L503.5 71.0L503.8 73.2L504.1 70.1L504.4 72.3L504.7 73.6L505.0 72.9L505.3 72.3L505.6 73.3L505.9 74.6L506.2 75.3L506.5 72.5L506.8 76.5L507.1 76.2L507.4 78.3L507.7 77.6L508.0 78.0L508.3 72.0L508.6 76.4L508.9 80.6L509.2 78.6L509.5 77.6L509.8 79.9L510.1 79.1L510.4 80.2L510.7 78.4L511.0 81.6L511.3 83.9L511.6 82.1L511.9 82.2L512.2 81.4L512.5 83.6L512.8 81.7L513.1 79.6L513.4 80.2L513.7 80.2L514.0 80.6L514.3 80.5L514.6 78.8L514.9 78.0L515.2 79.1L515.5 76.7L515.8 77.0L516.1 77.5L516.4 77.0L516.7 75.9L517.0 79.2L517.3 77.3L517.6 75.0L517.9 72.9L518.2 74.1L518.5 75.3L518.8 69.9L519.1 77.9L519.4 73.0L519.7 72.6L520.0 73.9L520.3 70.6L520.6 73.4L520.9 73.0L521.2 73.6L521.5 70.9L521.8 73.8L522.1 74.8L522.4 72.9L522.7 71.7L523.0 71.2L523.3 69.8L523.6 72.3L523.9 74.1L524.2 75.7L524.5 74.8L524.8 74.5L525.1 71.5L525.4 72.0L525.7 70.4L526.0 71.6L526.3 70.4L526.6 72.1L526.9 73.8L527.2 72.5L527.5 72.6L527.8 74.3L528.1 76.1L528.4 75.4L528.7 70.9L529.0 76.5L529.3 72.6L529.6 71.0L529.9 72.8L530.2 75.1L530.5 68.6L530.8 76.1L531.1 73.3L531.4 74.2L531.7 70.9L532.0 71.8L532.3 70.6L532.6 74.0L532.9 71.0L533.2 73.2L533.5 71.6L533.8 70.5L534.1 74.2L534.4 74.3L534.7 74.7L535.0 71.5L535.3 72.7L535.6 73.5L535.9 72.9L536.2 73.0L536.5 76.1L536.8 71.6L537.1 74.2L537.4 72.2L537.7 75.9L538.0 72.9L538.3 70.8L538.6 73.3L538.9 71.8L539.2 71.0L539.5 71.6L539.8 71.0L540.1 73.1L540.4 73.3L540.7 75.0L541.0 71.1L541.3 75.0L541.6 74.0L541.9 71.4L542.2 76.7L542.5 70.6L542.8 74.7L543.1 70.2L543.4 74.0L543.7 72.6L544.0 72.5" stroke="#ff0000" stroke-width="2.5" fill="none" stroke-dasharray="6.6 2 2.8 2.1" stroke-linejoin="round"/>
<path clip-path="url(#c0)" d="M67.0 75.0L67.5 75.4L68.0 75.7L68.5 75.9L69.0 76.0L69.5 76.0L70.0 76.0L70.5 75.5L71.0 74.2L71.5 73.0L72.0 72.5L72.5 72.8L73.0 73.7L73.5 74.8L74.0 75.8L74.5 76.7L75.0 77.0L75.5 76.7L76.0 76.0L76.5 75.0L77.0 74.0L77.5 73.3L78.0 73.0L78.5 73.3L79.0 74.2L79.5 75.2L80.0 76.3L80.5 77.2L81.0 77.5L81.5 77.2L82.0 76.6L82.5 75.8L83.0 74.9L83.5 74.3L84.0 74.0L84.5 74.1L85.0 74.5L85.5 75.0L86.0 75.5L86.5 75.9L87.0 76.0L87.5 75.8L88.0 75.2L88.5 74.5L89.0 73.8L89.5 73.2L90.0 73.0L90.5 73.3L91.0 74.0L91.5 75.0L92.0 76.0L92.5 76.7L93.0 77.0L93.5 76.9L94.0 76.6L94.5 76.2L95.0 75.8L95.5 75.4L96.0 75.0L96.5 74.6L97.0 74.2L97.5 73.8L98.0 73.4L98.5 73.1L99.0 73.0L99.5 73.3L100.0 74.0L100.5 75.0L101.0 76.0L101.5 76.7L102.0 77.0L102.5 76.8L103.0 76.4L103.5 75.9L104.0 75.2L104.5 74.6L105.0 74.0L105.5 73.5L106.0 73.1L106.5 72.6L107.0 72.2L107.5 71.7L108.0 71.2L108.5 70.7L109.0 70.0L109.5 69.0L110.0 67.7L110.5 66.2L111.0 64.6L111.5 63.3L112.0 62.4L112.5 62.0L113.0 62.4L113.5 63.5L114.0 65.0L114.5 66.8L115.0 69.0L115.5 72.7L116.0 76.0L116.5 78.4L117.0 80.6L117.5 82.3L118.0 83.0L118.5 83.1L119.0 83.3L119.5 83.3L120.0 83.4L120.5 83.5L121.0 83.5L121.5 83.5L122.0 83.4L122.5 83.0L123.0 82.5L123.5 82.0L124.0 81.5L124.5 81.1L125.0 81.0L125.5 81.0L126.0 81.2L126.5 81.3L127.0 81.5L127.5 81.7L128.0 81.8L128.5 82.0L129.0 82.0L129.5 81.9L130.0 81.6L130.5 81.2L131.0 80.8L131.5 80.4L132.0 80.0L132.5 79.6L133.0 79.2L133.5 78.8L134.0 78.4L134.5 78.1L135.0 78.0L135.5 78.0L136.0 78.0L136.5 78.0L137.0 78.0L137.5 78.0L138.0 78.0L138.5 79.0L139.0 81.3L139.5 84.0L140.0 86.0L140.5 87.4L141.0 88.7L141.5 89.6L142.0 90.0L142.5 89.4L143.0 88.1L143.5 86.4L144.0 85.0L144.5 84.0L145.0 83.1L145.5 82.1L146.0 81.0L146.5 79.4L147.0 77.3L147.5 75.1L148.0 73.0L148.5 71.6L149.0 71.0L149.5 71.0L150.0 71.0L150.5 71.0L151.0 71.0L151.5 72.6L152.0 76.0L152.5 79.4L153.0 81.0L153.5 80.9L154.0 80.6L154.5 80.3L155.0 80.0L155.5 79.7L156.0 79.3L156.5 79.0L157.0 78.6L157.5 78.2L158.0 77.9L158.5 77.5L159.0 77.1L159.5 76.6L160.0 76.0L160.5 75.0L161.0 73.6L161.5 72.0L162.0 70.5L162.5 69.4L163.0 69.0L163.5 69.0L164.0 69.0L164.5 69.0L165.0 69.0L165.5 70.1L166.0 72.9L166.5 76.5L167.0 80.1L167.5 82.9L168.0 84.0L168.5 83.7L169.0 82.8L169.5 81.6L170.0 80.5L170.5 79.5L171.0 79.0L171.5 78.8L172.0 78.7L172.5 78.6L173.0 78.5L173.5 78.4L174.0 78.4L174.5 78.3L175.0 78.2L175.5 78.1L176.0 78.0L176.5 77.8L177.0 77.6L177.5 77.4L178.0 77.2L178.5 76.9L179.0 76.6L179.5 76.3L180.0 76.0L180.5 75.7L181.0 75.3L181.5 74.9L182.0 74.4L182.5 74.0L183.0 73.5L183.5 73.1L184.0 72.7L184.5 72.3L185.0 72.0L185.5 71.7L186.0 71.5L186.5 71.3L187.0 71.1L187.5 70.9L188.0 70.7L188.5 70.6L189.0 70.4L189.5 70.2L190.0 70.0L190.5 69.8L191.0 69.6L191.5 69.4L192.0 69.2L192.5 69.0L193.0 68.8L193.5 68.6L194.0 68.4L194.5 68.2L195.0 68.0L195.5 67.8L196.0 67.5L196.5 67.3L197.0 67.0L197.5 66.7L198.0 66.4L198.5 66.0L199.0 65.6L199.5 65.2L200.0 64.8L200.5 64.4L201.0 64.0L201.5 63.6L202.0 63.1L202.5 62.6L203.0 62.1L203.5 61.7L204.0 61.3L204.5 61.1L205.0 61.0L205.5 61.3L206.0 62.2L206.5 63.4L207.0 64.9L207.5 66.5L208.0 68.0L208.5 69.9L209.0 72.2L209.5 74.2L210.0 75.0L210.5 74.9L211.0 74.6L211.5 74.1L212.0 73.6L212.5 73.0L213.0 72.4L213.5 71.9L214.0 71.4L214.5 71.1L215.0 71.0L215.5 71.0L216.0 71.1L216.5 71.2L217.0 71.4L217.5 71.6L218.0 71.8L218.5 72.0L219.0 72.2L219.5 72.4L220.0 72.6L220.5 72.8L221.0 72.9L221.5 73.0L222.0 73.0L222.5 72.9L223.0 72.6L223.5 72.2L224.0 71.7L224.5 71.2L225.0 70.7L225.5 70.3L226.0 70.0L226.5 69.8L227.0 69.6L227.5 69.5L228.0 69.3L228.5 69.2L229.0 69.1L229.5 69.0L230.0 69.0L230.5 69.1L231.0 69.3L231.5 69.6L232.0 70.1L232.5 70.5L233.0 70.9L233.5 71.4L234.0 71.7L234.5 71.9L235.0 72.0L235.5 72.0L236.0 71.9L236.5 71.8L237.0 71.6L237.5 71.5L238.0 71.4L238.5 71.2L239.0 71.1L239.5 71.0L240.0 71.0L240.5 71.1L241.0 71.3L241.5 71.6L242.0 72.0L242.5 72.5L243.0 73.0L243.5 73.5L244.0 74.0L244.5 74.5L245.0 75.0L245.5 75.5L246.0 76.0L246.5 76.6L247.0 77.2L247.5 77.8L248.0 78.4L248.5 78.9L249.0 79.5L249.5 79.9L250.0 80.2L250.5 80.4L251.0 80.5L251.5 80.3L252.0 79.6L252.5 78.7L253.0 77.4L253.5 76.0L254.0 74.5L254.5 72.9L255.0 71.3L255.5 69.9L256.0 68.6L256.5 67.4L257.0 66.0L257.5 64.6L258.0 63.2L258.5 61.8L259.0 60.5L259.5 59.2L260.0 58.0L260.5 57.0L261.0 56.2L261.5 55.6L262.0 55.2L262.5 54.9L263.0 54.6L263.5 54.4L264.0 54.3L264.5 54.1L265.0 53.9L265.5 53.7L266.0 53.4L266.5 53.1L267.0 52.6L267.5 51.7L268.0 50.4L268.5 48.9L269.0 47.3L269.5 45.7L270.0 44.2L270.5 42.9L271.0 42.0L271.5 41.1L272.0 40.2L272.5 39.3L273.0 38.5L273.5 37.7L274.0 37.1L274.5 36.5L275.0 36.1L275.5 35.8L276.0 35.7L276.5 35.7L277.0 35.8L277.5 35.9L278.0 36.0L278.5 36.2L279.0 36.4L279.5 36.6L280.0 36.8L280.5 37.1L281.0 37.4L281.5 37.7L282.0 38.0L282.5 38.3L283.0 38.7L283.5 39.2L284.0 39.7L284.5 40.4L285.0 41.1L285.5 42.0L286.0 43.0L286.5 44.3L287.0 46.2L287.5 48.4L288.0 50.8L288.5 53.4L289.0 56.0L289.5 58.7L290.0 61.8L290.5 64.9L291.0 68.0L291.5 71.3L292.0 74.7L292.5 77.8L293.0 80.0L293.5 81.4L294.0 82.5L294.5 83.5L295.0 84.3L295.5 85.1L296.0 86.0L296.5 86.9L297.0 87.9L297.5 88.8L298.0 89.7L298.5 90.6L299.0 91.4L299.5 92.2L300.0 93.0L300.5 93.7L301.0 94.5L301.5 95.2L302.0 95.9L302.5 96.5L303.0 97.1L303.5 97.6L304.0 98.0L304.5 98.4L305.0 98.7L305.5 99.1L306.0 99.4L306.5 99.6L307.0 99.8L307.5 100.0L308.0 100.0L308.5 99.8L309.0 99.1L309.5 98.2L310.0 97.2L310.5 96.0L311.0 95.0L311.5 93.8L312.0 92.5L312.5 91.0L313.0 89.6L313.5 88.6L314.0 88.0L314.5 87.7L315.0 87.5L315.5 87.3L316.0 87.1L316.5 87.0L317.0 87.0L317.5 87.1L318.0 87.3L318.5 87.6L319.0 88.0L319.5 88.5L320.0 89.0L320.5 89.5L321.0 90.0L321.5 90.6L322.0 91.2L322.5 92.0L323.0 92.8L323.5 93.7L324.0 94.5L324.5 95.3L325.0 96.0L325.5 96.7L326.0 97.3L326.5 98.0L327.0 98.6L327.5 99.2L328.0 99.9L328.5 100.4L329.0 101.0L329.5 101.6L330.0 102.2L330.5 102.8L331.0 103.3L331.5 103.7L332.0 104.0L332.5 104.1L333.0 104.3L333.5 104.3L334.0 104.4L334.5 104.5L335.0 104.5L335.5 104.6L336.0 104.6L336.5 104.7L337.0 104.8L337.5 104.9L338.0 105.0L338.5 105.2L339.0 105.5L339.5 105.8L340.0 106.1L340.5 106.5L341.0 106.7L341.5 106.9L342.0 107.0L342.5 106.7L343.0 106.0L343.5 104.9L344.0 103.5L344.5 101.9L345.0 100.2L345.5 98.6L346.0 97.0L346.5 95.4L347.0 93.7L347.5 91.8L348.0 89.9L348.5 87.9L349.0 85.9L349.5 83.9L350.0 82.0L350.5 79.9L351.0 77.6L351.5 75.3L352.0 73.2L352.5 71.7L353.0 71.0L353.5 70.8L354.0 70.6L354.5 70.5L355.0 70.4L355.5 70.3L356.0 70.2L356.5 70.1L357.0 70.0L357.5 69.9L358.0 69.7L358.5 69.6L359.0 69.5L359.5 69.3L360.0 69.2L360.5 69.0L361.0 68.9L361.5 68.8L362.0 68.7L362.5 68.6L363.0 68.6L363.5 68.6L364.0 69.7L364.5 71.7L365.0 74.3L365.5 76.9L366.0 79.0L366.5 80.5L367.0 81.9L367.5 83.3L368.0 84.5L368.5 85.7L369.0 87.0L369.5 88.3L370.0 89.7L370.5 91.2L371.0 92.7L371.5 94.2L372.0 95.8L372.5 97.4L373.0 99.1L373.5 100.9L374.0 102.8L374.5 104.9L375.0 107.3L375.5 109.8L376.0 112.4L376.5 115.0L377.0 117.4L377.5 119.5L378.0 121.3L378.5 123.1L379.0 124.8L379.5 126.3L380.0 127.4L380.5 127.8L381.0 127.7L381.5 127.5L382.0 127.1L382.5 126.6L383.0 126.1L383.5 125.4L384.0 124.7L384.5 123.9L385.0 122.8L385.5 121.3L386.0 119.4L386.5 117.2L387.0 114.8L387.5 112.3L388.0 109.9L388.5 107.5L389.0 104.9L389.5 101.9L390.0 98.7L390.5 95.5L391.0 92.5L391.5 90.0L392.0 88.0L392.5 86.8L393.0 86.1L393.5 85.4L394.0 84.9L394.5 84.5L395.0 84.0L395.5 83.6L396.0 83.2L396.5 82.8L397.0 82.5L397.5 82.2L398.0 81.9L398.5 81.5L399.0 81.1L399.5 80.6L400.0 80.0L400.5 79.2L401.0 78.1L401.5 76.8L402.0 75.4L402.5 73.7L403.0 72.0L403.5 70.0L404.0 67.5L404.5 64.8L405.0 62.0L405.5 59.0L406.0 55.7L406.5 52.6L407.0 50.0L407.5 47.7L408.0 45.4L408.5 43.7L409.0 43.0L409.5 43.1L410.0 43.5L410.5 44.0L411.0 44.6L411.5 45.3L412.0 46.0L412.5 46.7L413.0 47.5L413.5 48.5L414.0 49.5L414.5 50.7L415.0 52.0L415.5 53.7L416.0 55.8L416.5 58.0L417.0 60.0L417.5 62.1L418.0 64.1L418.5 65.0L419.0 63.7L419.5 60.9L420.0 58.0L420.5 55.3L421.0 52.4L421.5 49.8L422.0 48.0L422.5 46.9L423.0 45.9L423.5 45.3L424.0 45.0L424.5 45.5L425.0 46.7L425.5 48.3L426.0 50.0L426.5 52.3L427.0 55.4L427.5 58.3L428.0 60.0L428.5 60.8L429.0 61.4L429.5 61.8L430.0 62.0L430.5 61.9L431.0 61.7L431.5 61.3L432.0 60.9L432.5 60.4L433.0 60.0L433.5 59.6L434.0 59.1L434.5 58.6L435.0 58.0L435.5 57.5L436.0 57.0L436.5 56.4L437.0 55.8L437.5 55.1L438.0 54.5L438.5 53.9L439.0 53.4L439.5 53.1L440.0 53.0L440.5 53.2L441.0 53.8L441.5 54.6L442.0 55.6L442.5 56.8L443.0 58.0L443.5 59.7L444.0 62.1L444.5 64.4L445.0 66.0L445.5 67.0L446.0 67.9L446.5 68.8L447.0 69.5L447.5 70.1L448.0 70.6L448.5 70.9L449.0 71.0L449.5 70.9L450.0 70.5L450.5 70.1L451.0 69.5L451.5 68.9L452.0 68.5L452.5 68.1L453.0 68.0L453.5 68.0L454.0 68.1L454.5 68.3L455.0 68.5L455.5 68.7L456.0 69.0L456.5 69.6L457.0 70.7L457.5 72.2L458.0 74.0L458.5 76.0L459.0 78.0L459.5 80.5L460.0 83.7L460.5 87.1L461.0 90.3L461.5 93.1L462.0 95.8L462.5 98.4L463.0 100.9L463.5 102.8L464.0 104.0L464.5 104.8L465.0 105.5L465.5 106.1L466.0 106.7L466.5 107.1L467.0 107.5L467.5 107.8L468.0 108.0L468.5 108.0L469.0 107.2L469.5 105.7L470.0 103.5L470.5 101.0L471.0 98.5L471.5 96.2L472.0 94.3L472.5 92.6L473.0 90.8L473.5 89.2L474.0 87.5L474.5 85.9L475.0 84.3L475.5 82.7L476.0 81.2L476.5 79.4L477.0 77.4L477.5 75.5L478.0 73.8L478.5 72.3L479.0 71.4L479.5 71.0L480.0 71.1L480.5 71.4L481.0 71.8L481.5 72.3L482.0 72.9L482.5 74.3L483.0 76.2L483.5 78.4L484.0 80.4L484.5 82.0L485.0 83.1L485.5 84.1L486.0 85.0L486.5 85.8L487.0 86.7L487.5 87.8L488.0 89.2L488.5 91.1L489.0 93.2L489.5 94.9L490.0 96.1L490.5 96.3L491.0 96.0L491.5 95.6L492.0 95.0L492.5 94.3L493.0 93.7L493.5 93.3L494.0 93.0L494.5 93.0L495.0 93.0L495.5 93.1L496.0 93.1L496.5 93.2L497.0 93.3L497.5 93.4L498.0 93.5L498.5 93.8L499.0 94.6L499.5 95.7L500.0 96.8L500.5 97.7L501.0 98.0L501.5 97.8L502.0 97.4L502.5 96.7L503.0 95.9L503.5 94.9L504.0 93.9L504.5 92.9L505.0 92.0L505.5 91.0L506.0 89.9L506.5 88.8L507.0 87.7L507.5 86.7L508.0 86.0L508.5 85.4L509.0 84.9L509.5 84.4L510.0 83.9L510.5 83.6L511.0 83.3L511.5 83.1L512.0 83.0L512.5 83.9L513.0 86.1L513.5 89.0L514.0 92.0L514.5 94.4L515.0 95.8L515.5 96.9L516.0 98.0L516.5 98.9L517.0 99.6L517.5 100.1L518.0 100.5L518.5 100.8L519.0 101.1L519.5 101.3L520.0 101.5L520.5 101.7L521.0 101.9L521.5 102.1L522.0 102.4L522.5 102.7L523.0 103.2L523.5 103.9L524.0 104.7L524.5 105.3L525.0 105.5L525.5 105.3L526.0 104.7L526.5 103.9L527.0 103.0L527.5 102.0L528.0 101.1L528.5 100.4L529.0 100.0L529.5 99.8L530.0 99.6L530.5 99.4L531.0 99.3L531.5 99.2L532.0 99.1L532.5 99.0L533.0 99.0L533.5 99.4L534.0 100.5L534.5 101.8L535.0 103.0L535.5 103.8L536.0 104.0L536.5 103.7L537.0 103.1L537.5 102.4L538.0 101.7L538.5 101.0L539.0 100.4L539.5 100.1L540.0 100.0L540.5 99.9L541.0 99.9L541.5 99.8L542.0 99.8L542.5 99.7L543.0 99.7L543.5 99.7L544.0 99.7" stroke="#00ff00" stroke-width="1.8" fill="none" stroke-dasharray="8.5 5" stroke-linejoin="round"/>
<path clip-path="url(#c1)" d="M67.0 196.4L67.6 202.1L68.2 201.6L68.8 208.1L69.4 208.1L70.0 208.0L70.6 206.7L71.2 203.3L71.8 198.1L72.4 196.4L73.0 194.2L73.6 193.1L74.2 189.9L74.8 190.0L75.4 193.7L76.0 192.9L76.6 194.3L77.2 193.2L77.8 190.5L78.4 193.3L79.0 192.5L79.6 192.1L80.2 190.9L80.8 192.0L81.4 191.9L82.0 193.3L82.6 192.5L83.2 194.3L83.8 191.6L84.4 193.2L85.0 193.4L85.6 191.8L86.2 191.5L86.8 194.2L87.4 193.6L88.0 192.8L88.6 193.5L89.2 192.1L89.8 193.2L90.4 192.1L91.0 192.9L91.6 193.8L92.2 192.0L92.8 193.3L93.4 190.9L94.0 191.6L94.6 190.1L95.2 191.4L95.8 191.4L96.4 190.8L97.0 190.4L97.6 191.8L98.2 191.0L98.8 186.9L99.4 188.7L100.0 184.3L100.6 184.6L101.2 184.6L101.8 184.7L102.4 183.3L103.0 183.7L103.6 184.8L104.2 184.0L104.8 184.2L105.4 187.0L106.0 189.8L106.6 191.6L107.2 194.2L107.8 195.6L108.4 196.3L109.0 197.3L109.6 197.6L110.2 200.2L110.8 199.7L111.4 199.2L112.0 198.1L112.6 197.0L113.2 197.7L113.8 195.8L114.4 195.8L115.0 196.8L115.6 195.8L116.2 198.6L116.8 198.6L117.4 198.8L118.0 198.4L118.6 200.0L119.2 200.9L119.8 200.8L120.4 200.3L121.0 199.0L121.6 202.4L122.2 201.2L122.8 200.8L123.4 203.2L124.0 202.7L124.6 200.7L125.2 202.3L125.8 201.9L126.4 203.1L127.0 199.3L127.6 200.7L128.2 200.8L128.8 202.4L129.4 199.2L130.0 196.7L130.6 198.2L131.2 199.4L131.8 199.0L132.4 199.2L133.0 196.9L133.6 194.8L134.2 196.2L134.8 194.6L135.4 194.0L136.0 193.9L136.6 195.2L137.2 192.4L137.8 192.1L138.4 193.1L139.0 193.0L139.6 192.0L140.2 191.8L140.8 193.3L141.4 194.3L142.0 193.5L142.6 193.3L143.2 193.9L143.8 189.9L144.4 190.3L145.0 191.1L145.6 190.3L146.2 190.4L146.8 191.4L147.4 189.6L148.0 190.4L148.6 188.3L149.2 189.5L149.8 192.1L150.4 189.7L151.0 190.6L151.6 191.0L152.2 189.4L152.8 190.6L153.4 190.0L154.0 190.5L154.6 188.8L155.2 187.7L155.8 188.1L156.4 188.5L157.0 189.7L157.6 188.7L158.2 188.3L158.8 188.4L159.4 189.8L160.0 187.7L160.6 190.1L161.2 186.7L161.8 187.3L162.4 189.0L163.0 188.5L163.6 186.7L164.2 187.5L164.8 186.7L165.4 188.5L166.0 188.1L166.6 186.6L167.2 188.0L167.8 187.1L168.4 187.4L169.0 187.6L169.6 186.8L170.2 188.0L170.8 188.1L171.4 188.0L172.0 188.8L172.6 187.1L173.2 185.6L173.8 186.6L174.4 187.3L175.0 186.8L175.6 187.2L176.2 187.2L176.8 185.8L177.4 185.5L178.0 184.2L178.6 186.3L179.2 184.5L179.8 183.2L180.4 182.9L181.0 183.4L181.6 185.4L182.2 184.1L182.8 180.8L183.4 182.4L184.0 182.6L184.6 182.9L185.2 182.4L185.8 181.1L186.4 182.2L187.0 181.0L187.6 178.8L188.2 180.6L188.8 180.6L189.4 182.5L190.0 182.7L190.6 180.3L191.2 181.9L191.8 181.9L192.4 180.3L193.0 179.9L193.6 182.5L194.2 183.1L194.8 182.5L195.4 180.3L196.0 183.8L196.6 183.4L197.2 183.4L197.8 184.5L198.4 183.9L199.0 186.3L199.6 186.1L200.2 185.4L200.8 187.4L201.4 187.2L202.0 184.7L202.6 187.7L203.2 187.5L203.8 185.3L204.4 187.6L205.0 189.8L205.6 188.0L206.2 192.0L206.8 192.7L207.4 189.0L208.0 190.8L208.6 193.6L209.2 189.3L209.8 188.3L210.4 189.2L211.0 187.5L211.6 187.6L212.2 190.6L212.8 189.4L213.4 190.7L214.0 191.2L214.6 188.9L215.2 190.0L215.8 189.9L216.4 189.2L217.0 188.9L217.6 191.1L218.2 190.3L218.8 191.2L219.4 192.5L220.0 192.6L220.6 188.6L221.2 189.1L221.8 190.3L222.4 191.0L223.0 192.6L223.6 189.0L224.2 190.0L224.8 191.3L225.4 193.2L226.0 193.5L226.6 189.0L227.2 190.5L227.8 189.4L228.4 192.6L229.0 191.8L229.6 190.3L230.2 189.8L230.8 191.6L231.4 192.9L232.0 189.6L232.6 190.5L233.2 191.3L233.8 191.1L234.4 191.8L235.0 189.2L235.6 190.0L236.2 187.2L236.8 191.3L237.4 193.2L238.0 187.3L238.6 190.0L239.2 192.9L239.8 191.0L240.4 187.7L241.0 193.5L241.6 188.6L242.2 193.9L242.8 190.2L243.4 190.0L244.0 191.4L244.6 191.3L245.2 192.5L245.8 192.3L246.4 191.1L247.0 193.9L247.6 192.7L248.2 191.9L248.8 191.7L249.4 191.2L250.0 191.3L250.6 192.7L251.2 192.3L251.8 191.5L252.4 193.4L253.0 191.0L253.6 192.3L254.2 193.1L254.8 189.4L255.4 191.0L256.0 194.7L256.6 189.7L257.2 193.7L257.8 189.5L258.4 192.3L259.0 189.5L259.6 190.3L260.2 190.8L260.8 190.5L261.4 193.4L262.0 193.1L262.6 193.2L263.2 191.9L263.8 194.6L264.4 193.5L265.0 192.1L265.6 189.5L266.2 192.8L266.8 192.7L267.4 191.7L268.0 192.9L268.6 193.0L269.2 190.9L269.8 192.6L270.4 192.2L271.0 192.1L271.6 190.9L272.2 190.6L272.8 191.7L273.4 194.2L274.0 195.9L274.6 190.8L275.2 189.5L275.8 190.9L276.4 189.9L277.0 190.7L277.6 192.3L278.2 189.8L278.8 192.7L279.4 193.0L280.0 194.4L280.6 195.0L281.2 193.4L281.8 195.8L282.4 190.6L283.0 192.0L283.6 191.8L284.2 192.3L284.8 193.4L285.4 190.9L286.0 194.8L286.6 193.9L287.2 192.2L287.8 192.4L288.4 189.7L289.0 186.8L289.6 191.3L290.2 192.1L290.8 191.9L291.4 189.4L292.0 190.7L292.6 194.8L293.2 192.9L293.8 192.7L294.4 190.9L295.0 192.9L295.6 194.0L296.2 193.0L296.8 190.8L297.4 192.1L298.0 189.9L298.6 190.9L299.2 192.6L299.8 190.5L300.4 191.1L301.0 194.2L301.6 191.2L302.2 193.0L302.8 191.0L303.4 189.4L304.0 191.5L304.6 190.9L305.2 187.7L305.8 189.3L306.4 190.8L307.0 194.3L307.6 190.5L308.2 191.5L308.8 192.8L309.4 192.1L310.0 190.9L310.6 194.8L311.2 194.1L311.8 187.0L312.4 193.4L313.0 192.6L313.6 193.5L314.2 191.8L314.8 193.2L315.4 195.3L316.0 194.9L316.6 195.0L317.2 193.6L317.8 193.4L318.4 193.4L319.0 189.6L319.6 196.0L320.2 192.1L320.8 192.3L321.4 191.9L322.0 192.6L322.6 187.7L323.2 192.1L323.8 189.3L324.4 189.9L325.0 188.2L325.6 188.5L326.2 192.8L326.8 190.8L327.4 191.6L328.0 191.4L328.6 189.6L329.2 190.4L329.8 189.4L330.4 191.2L331.0 187.6L331.6 191.0L332.2 193.5L332.8 194.1L333.4 194.0L334.0 192.7L334.6 189.9L335.2 193.5L335.8 192.8L336.4 192.3L337.0 189.5L337.6 192.5L338.2 194.5L338.8 193.2L339.4 191.4L340.0 192.8L340.6 191.8L341.2 192.1L341.8 193.4L342.4 192.5L343.0 191.9L343.6 192.5L344.2 190.3L344.8 189.9L345.4 192.7L346.0 190.7L346.6 192.9L347.2 188.3L347.8 194.1L348.4 191.6L349.0 194.9L349.6 187.1L350.2 188.6L350.8 194.5L351.4 192.1L352.0 192.4L352.6 192.0L353.2 192.1L353.8 192.8L354.4 189.9L355.0 191.5L355.6 194.3L356.2 192.2L356.8 190.6L357.4 192.0L358.0 193.8L358.6 191.4L359.2 191.5L359.8 192.7L360.4 193.4L361.0 194.6L361.6 191.6L362.2 192.5L362.8 193.8L363.4 188.2L364.0 192.1L364.6 192.7L365.2 191.7L365.8 190.2L366.4 192.9L367.0 194.2L367.6 191.7L368.2 190.9L368.8 191.4L369.4 194.8L370.0 194.2L370.6 191.9L371.2 189.8L371.8 189.4L372.4 191.2L373.0 191.2L373.6 192.3L374.2 189.7L374.8 191.6L375.4 192.9L376.0 188.7L376.6 196.2L377.2 192.9L377.8 192.8L378.4 189.4L379.0 189.9L379.6 193.8L380.2 193.5L380.8 187.2L381.4 194.0L382.0 193.2L382.6 193.0L383.2 189.8L383.8 192.4L384.4 190.7L385.0 192.9L385.6 195.4L386.2 193.1L386.8 193.8L387.4 191.3L388.0 189.9L388.6 191.9L389.2 193.8L389.8 194.7L390.4 191.8L391.0 192.4L391.6 191.1L392.2 188.6L392.8 192.0L393.4 192.5L394.0 191.1L394.6 191.6L395.2 188.5L395.8 192.0L396.4 194.5L397.0 191.8L397.6 193.0L398.2 192.7L398.8 190.5L399.4 192.3L400.0 190.3L400.6 197.4L401.2 192.3L401.8 189.8L402.4 189.0L403.0 194.7L403.6 193.1L404.2 192.6L404.8 189.3L405.4 190.8L406.0 189.6L406.6 194.0L407.2 190.9L407.8 195.5L408.4 192.9L409.0 191.3L409.6 194.4L410.2 187.9L410.8 190.3L411.4 191.1L412.0 193.9L412.6 193.9L413.2 192.5L413.8 188.5L414.4 190.9L415.0 189.8L415.6 194.2L416.2 191.0L416.8 193.0L417.4 195.4L418.0 191.7L418.6 193.2L419.2 191.1L419.8 191.9L420.4 191.9L421.0 191.9L421.6 192.0L422.2 191.1L422.8 195.4L423.4 190.6L424.0 192.3L424.6 191.2L425.2 187.5L425.8 193.6L426.4 192.2L427.0 189.2L427.6 190.4L428.2 188.7L428.8 192.3L429.4 194.7L430.0 194.1L430.6 189.3L431.2 188.5L431.8 192.8L432.4 195.0L433.0 191.8L433.6 193.7L434.2 189.1L434.8 191.5L435.4 192.6L436.0 190.9L436.6 191.3L437.2 193.0L437.8 190.5L438.4 189.8L439.0 193.1L439.6 192.2L440.2 189.8L440.8 192.5L441.4 190.6L442.0 192.9L442.6 191.7L443.2 191.1L443.8 190.2L444.4 192.1L445.0 191.6L445.6 195.3L446.2 191.6L446.8 189.1L447.4 195.6L448.0 187.8L448.6 194.8L449.2 190.0L449.8 194.3L450.4 191.3L451.0 192.7L451.6 191.7L452.2 191.4L452.8 192.6L453.4 190.4L454.0 192.5L454.6 189.6L455.2 190.2L455.8 190.7L456.4 191.4L457.0 193.9L457.6 190.0L458.2 190.0L458.8 189.5L459.4 190.8L460.0 192.7L460.6 190.2L461.2 191.1L461.8 190.5L462.4 191.8L463.0 187.8L463.6 192.8L464.2 193.4L464.8 190.1L465.4 191.5L466.0 189.9L466.6 193.6L467.2 192.9L467.8 197.2L468.4 191.3L469.0 190.1L469.6 190.8L470.2 189.4L470.8 192.2L471.4 192.4L472.0 193.6L472.6 192.6L473.2 191.1L473.8 194.4L474.4 193.0L475.0 193.6L475.6 189.8L476.2 190.5L476.8 190.9L477.4 191.5L478.0 188.2L478.6 194.9L479.2 192.5L479.8 194.9L480.4 195.7L481.0 198.9L481.6 206.5L482.2 222.4L482.8 245.2L483.4 249.4L484.0 248.4L484.6 213.5L485.2 185.8L485.8 168.8L486.4 157.0L487.0 141.1L487.6 144.4L488.2 152.5L488.8 167.1L489.4 171.5L490.0 178.3L490.6 183.6L491.2 182.3L491.8 183.3L492.4 181.5L493.0 179.0L493.6 180.4L494.2 183.1L494.8 180.3L495.4 179.5L496.0 179.1L496.6 181.2L497.2 182.9L497.8 181.4L498.4 181.8L499.0 186.4L499.6 180.0L500.2 179.5L500.8 182.1L501.4 181.3L502.0 182.9L502.6 184.2L503.2 182.7L503.8 181.7L504.4 183.2L505.0 183.2L505.6 182.3L506.2 181.5L506.8 184.1L507.4 182.7L508.0 181.1L508.6 184.7L509.2 182.6L509.8 182.6L510.4 184.9L511.0 182.2L511.6 183.3L512.2 181.8L512.8 180.7L513.4 184.2L514.0 186.5L514.6 181.9L515.2 185.8L515.8 185.6L516.4 186.4L517.0 181.5L517.6 182.3L518.2 186.8L518.8 183.6L519.4 183.8L520.0 185.3L520.6 185.2L521.2 183.2L521.8 184.0L522.4 185.8L523.0 185.3L523.6 183.6L524.2 187.5L524.8 186.9L525.4 184.9L526.0 184.6L526.6 187.5L527.2 181.3L527.8 186.2L528.4 185.0L529.0 184.9L529.6 187.9L530.2 186.8L530.8 192.0L531.4 185.8L532.0 186.9L532.6 183.6L533.2 188.1L533.8 185.1L534.4 186.6L535.0 188.7L535.6 188.5L536.2 187.2L536.8 188.7L537.4 185.4L538.0 184.5L538.6 183.3L539.2 187.1L539.8 189.6L540.4 185.1L541.0 185.4L541.6 184.5L542.2 185.7L542.8 180.9L543.4 185.6L544.0 185.7" stroke="#0000ff" stroke-width="1.6" fill="none" stroke-dasharray="6.5 3 1.3 3" stroke-linejoin="round"/>
<path clip-path="url(#c1)" d="M67.0 174.9L67.1 197.7L67.2 197.8L67.2 166.2L67.3 182.7L67.4 197.5L67.5 206.5L67.6 194.0L67.6 168.8L67.7 198.1L67.8 204.0L67.9 205.0L68.0 187.1L68.0 183.7L68.1 192.4L68.2 195.4L68.3 192.6L68.4 181.9L68.4 175.0L68.5 193.8L68.6 202.7L68.7 180.7L68.8 174.8L68.8 181.9L68.9 201.7L69.0 190.0L69.1 191.6L69.2 177.7L69.2 186.1L69.3 200.7L69.4 197.8L69.5 178.6L69.6 183.8L69.6 196.0L69.7 199.8L69.8 187.7L69.9 180.7L70.0 182.7L70.0 199.1L70.1 197.9L70.2 180.9L70.3 186.3L70.4 184.5L70.4 197.5L70.5 194.5L70.6 182.1L70.7 187.7L70.8 188.8L70.8 196.1L70.9 187.2L71.0 186.2L71.1 186.8L71.2 196.6L71.2 195.6L71.3 185.4L71.4 184.6L71.5 196.7L71.6 194.7L71.6 184.7L71.7 185.4L71.8 192.5L71.9 196.1L72.0 195.1L72.0 187.2L72.1 189.7L72.2 191.3L72.3 195.5L72.4 191.3L72.4 186.2L72.5 187.8L72.6 193.9L72.7 194.0L72.8 188.9L72.8 187.0L72.9 193.0L73.0 193.1L73.1 194.5L73.2 190.4L73.2 190.0L73.3 192.1L73.4 194.4L73.5 193.0L73.6 187.8L73.6 188.4L73.7 191.9L73.8 192.3L73.9 191.5L74.0 188.2L74.0 191.6L74.1 193.9L74.2 191.9L74.3 188.6L74.4 189.0L74.4 191.0L74.5 193.2L74.6 190.9L74.7 188.9L74.8 191.2L74.8 193.0L74.9 193.0L75.0 190.5L75.1 189.2L75.2 192.2L75.2 193.3L75.3 191.3L75.4 190.0L75.5 190.9L75.6 191.1L75.6 191.1L75.7 190.3L75.8 189.7L75.9 192.2L76.0 192.9L76.0 192.5L76.1 190.5L76.2 189.8L76.3 192.1L76.4 192.2L76.4 191.5L76.5 190.0L76.6 192.3L76.7 191.8L76.8 192.1L76.8 190.9L76.9 190.2L77.0 190.9L77.1 192.6L77.2 191.4L77.2 190.6L77.3 190.7L77.4 192.4L77.5 192.3L77.6 190.7L77.6 190.5L77.7 191.5L77.8 192.1L77.9 191.6L78.0 190.7L78.0 190.9L78.1 191.2L78.2 192.3L78.3 191.1L78.4 190.6L78.4 191.8L78.5 192.0L78.6 192.2L78.7 190.7L78.8 191.0L78.8 191.0L78.9 192.0L79.0 191.7L79.1 191.6L79.2 190.9L79.2 191.6L79.3 191.6L79.4 191.7L79.5 190.9L79.6 191.2L79.6 191.9L79.7 192.0L79.8 191.1L79.9 191.2L80.0 191.7L80.2 191.9L80.6 190.8L81.0 191.9L81.4 191.4L81.8 191.2L82.2 191.3L82.6 191.7L83.0 191.6L83.4 191.6L83.8 191.3L84.2 191.9L84.6 191.9L85.0 192.0L85.4 191.8L85.8 192.1L86.2 192.1L86.6 191.7L87.0 191.8L87.4 191.7L87.8 191.7L88.2 191.7L88.6 191.0L89.0 191.4L89.4 191.6L89.8 190.9L90.2 191.1L90.6 192.0L91.0 191.2L91.4 191.3L91.8 191.6L92.2 191.3L92.6 191.2L93.0 191.3L93.4 191.3L93.8 191.3L94.2 191.5L94.6 191.9L95.0 191.6L95.4 192.0L95.8 191.7L96.2 191.7L96.6 191.6L97.0 191.4L97.4 191.6L97.8 191.5L98.2 191.1L98.6 191.7L99.0 191.6L99.4 191.6L99.8 191.3L100.2 190.6L100.6 191.9L101.0 191.4L101.4 190.8L101.8 191.6L102.2 191.2L102.6 191.6L103.0 191.4L103.4 191.8L103.8 191.5L104.2 191.5L104.6 191.5L105.0 191.8L105.4 191.0L105.8 191.8L106.2 191.6L106.6 191.2L107.0 191.4L107.4 191.3L107.8 191.4L108.2 191.7L108.6 191.2L109.0 191.6L109.4 191.7L109.8 191.6L110.2 191.8L110.6 191.4L111.0 191.6L111.4 192.1L111.8 191.4L112.2 191.3L112.6 191.4L113.0 191.5L113.4 191.2L113.8 191.3L114.2 190.8L114.6 191.0L115.0 191.0L115.4 191.0L115.8 191.2L116.2 191.6L116.6 191.2L117.0 190.9L117.4 191.4L117.8 191.4L118.2 190.9L118.6 191.4L119.0 191.0L119.4 191.1L119.8 191.1L120.2 191.6L120.6 191.1L121.0 191.2L121.4 191.4L121.8 191.6L122.2 191.7L122.6 191.0L123.0 191.7L123.4 191.4L123.8 191.7L124.2 191.6L124.6 191.1L125.0 191.3L125.4 191.2L125.8 191.4L126.2 191.8L126.6 191.3L127.0 191.1L127.4 192.0L127.8 191.0L128.2 191.3L128.6 191.3L129.0 190.9L129.4 191.5L129.8 191.6L130.2 191.2L130.6 191.3L131.0 191.2L131.4 190.7L131.8 191.3L132.2 190.9L132.6 191.0L133.0 191.4L133.4 191.5L133.8 191.0L134.2 191.6L134.6 191.8L135.0 191.3L135.4 191.2L135.8 191.3L136.2 191.1L136.6 191.0L137.0 191.4L137.4 191.4L137.8 191.1L138.2 191.1L138.6 191.0L139.0 191.0L139.4 190.9L139.8 190.8L140.2 191.5L140.6 191.1L141.0 191.2L141.4 191.7L141.8 191.1L142.2 191.4L142.6 190.8L143.0 191.0L143.4 191.4L143.8 191.1L144.2 190.8L144.6 190.7L145.0 191.3L145.4 190.9L145.8 191.4L146.2 191.3L146.6 191.1L147.0 191.2L147.4 191.4L147.8 191.2L148.2 190.9L148.6 191.3L149.0 191.1L149.4 191.1L149.8 191.4L150.2 191.4L150.6 191.7L151.0 191.1L151.4 190.9L151.8 191.0L152.2 191.4L152.6 190.8L153.0 191.0L153.4 190.7L153.8 190.8L154.2 191.1L154.6 192.5L155.0 191.0L155.4 191.3L155.8 191.3L156.2 191.1L156.6 191.2L157.0 192.3L157.4 191.1L157.8 192.1L158.2 191.6L158.6 190.7L159.0 190.9L159.4 191.0L159.8 190.6L160.2 191.8L160.6 191.4L161.0 191.5L161.4 190.7L161.8 191.5L162.2 190.9L162.6 192.5L163.0 191.2L163.4 191.4L163.8 191.4L164.2 191.0L164.6 191.0L165.0 191.0L165.4 191.7L165.8 190.8L166.2 191.1L166.6 191.4L167.0 191.0L167.4 190.5L167.8 190.6L168.2 191.0L168.6 190.7L169.0 191.7L169.4 191.2L169.8 191.2L170.2 190.7L170.6 191.5L171.0 191.0L171.4 190.7L171.8 190.9L172.2 192.5L172.6 190.9L173.0 190.8L173.4 191.8L173.8 191.6L174.2 191.1L174.6 192.0L175.0 190.4L175.4 191.0L175.8 190.4L176.2 192.0L176.6 191.3L177.0 192.6L177.4 191.5L177.8 191.5L178.2 190.6L178.6 190.6L179.0 191.0L179.4 191.7L179.8 190.7L180.2 190.0L180.6 191.7L181.0 191.7L181.4 190.7L181.8 191.5L182.2 191.8L182.6 191.8L183.0 190.4L183.4 191.2L183.8 190.8L184.2 191.7L184.6 191.3L185.0 190.6L185.4 191.3L185.8 191.5L186.2 190.4L186.6 190.5L187.0 190.8L187.4 191.0L187.8 190.9L188.2 190.2L188.6 190.4L189.0 191.2L189.4 191.4L189.8 190.7L190.2 191.3L190.6 192.2L191.0 191.1L191.4 191.0L191.8 190.8L192.2 191.5L192.6 191.4L193.0 191.4L193.4 191.0L193.8 191.5L194.2 191.5L194.6 191.2L195.0 191.9L195.4 190.4L195.8 191.6L196.2 191.2L196.6 191.7L197.0 192.3L197.4 191.3L197.8 191.2L198.2 191.3L198.6 192.0L199.0 192.1L199.4 191.4L199.8 191.6L200.2 192.3L200.6 191.6L201.0 190.5L201.4 190.9L201.8 191.0L202.2 191.5L202.6 191.0L203.0 192.1L203.4 191.1L203.8 192.2L204.2 191.0L204.6 192.0L205.0 191.4L205.4 192.1L205.8 192.4L206.2 192.3L206.6 191.9L207.0 190.9L207.4 190.9L207.8 189.6L208.2 192.1L208.6 192.0L209.0 191.9L209.4 190.7L209.8 192.9L210.2 191.0L210.6 191.8L211.0 190.5L211.4 191.0L211.8 192.0L212.2 191.9L212.6 190.8L213.0 191.3L213.4 192.0L213.8 190.4L214.2 191.8L214.6 190.5L215.0 191.7L215.4 191.3L215.8 191.9L216.2 191.1L216.6 191.2L217.0 191.2L217.4 190.9L217.8 191.2L218.2 190.8L218.6 191.1L219.0 191.8L219.4 191.2L219.8 192.0L220.2 191.8L220.6 191.8L221.0 190.8L221.4 191.6L221.8 192.2L222.2 191.9L222.6 192.1L223.0 192.2L223.4 190.6L223.8 191.7L224.2 191.7L224.6 191.3L225.0 190.7L225.4 191.5L225.8 191.3L226.2 192.5L226.6 192.1L227.0 191.2L227.4 190.9L227.8 191.0L228.2 191.4L228.6 191.0L229.0 192.5L229.4 190.8L229.8 191.4L230.2 191.5L230.6 191.7L231.0 191.0L231.4 191.3L231.8 191.6L232.2 191.7L232.6 191.2L233.0 191.3L233.4 191.6L233.8 192.5L234.2 190.8L234.6 191.9L235.0 192.4L235.4 190.7L235.8 192.3L236.2 192.3L236.6 191.6L237.0 192.0L237.4 192.3L237.8 191.4L238.2 191.7L238.6 191.0L239.0 191.2L239.4 191.6L239.8 191.5L240.2 192.4L240.6 191.4L241.0 190.9L241.4 192.1L241.8 192.1L242.2 191.8L242.6 191.5L243.0 191.2L243.4 191.2L243.8 192.4L244.2 192.0L244.6 191.7L245.0 191.8L245.4 191.4L245.8 191.1L246.2 191.3L246.6 191.6L247.0 190.7L247.4 190.8L247.8 190.7L248.2 191.4L248.6 191.9L249.0 190.9L249.4 191.0L249.8 190.7L250.2 191.3L250.6 191.0L251.0 191.1L251.4 191.0L251.8 192.8L252.2 191.6L252.6 191.2L253.0 191.4L253.4 192.1L253.8 192.1L254.2 191.8L254.6 190.5L255.0 192.2L255.4 192.2L255.8 192.0L256.2 191.9L256.6 191.7L257.0 192.3L257.4 191.5L257.8 192.2L258.2 191.4L258.6 191.4L259.0 191.4L259.4 191.3L259.8 191.4L260.2 192.1L260.6 192.5L261.0 191.3L261.4 191.1L261.8 192.3L262.2 191.5L262.6 191.8L263.0 191.8L263.4 192.2L263.8 191.2L264.2 192.3L264.6 192.1L265.0 190.5L265.4 191.6L265.8 191.5L266.2 191.9L266.6 191.7L267.0 191.3L267.4 191.5L267.8 191.9L268.2 191.7L268.6 191.6L269.0 192.9L269.4 192.0L269.8 191.1L270.2 191.8L270.6 191.9L271.0 191.2L271.4 191.8L271.8 191.3L272.2 190.5L272.6 191.9L273.0 192.1L273.4 192.1L273.8 191.6L274.2 191.4L274.6 191.9L275.0 192.0L275.4 192.2L275.8 192.5L276.2 192.2L276.6 191.4L277.0 191.7L277.4 191.0L277.8 192.1L278.2 192.1L278.6 192.4L279.0 192.0L279.4 192.6L279.8 191.4L280.2 191.9L280.6 191.6L281.0 191.6L281.4 190.8L281.8 191.4L282.2 190.7L282.6 191.6L283.0 191.4L283.4 191.8L283.8 190.8L284.2 191.5L284.6 191.6L285.0 190.5L285.4 192.7L285.8 192.0L286.2 191.3L286.6 192.8L287.0 192.5L287.4 190.4L287.8 191.6L288.2 191.4L288.6 191.8L289.0 191.2L289.4 191.6L289.8 191.8L290.2 190.4L290.6 191.8L291.0 192.5L291.4 191.8L291.8 192.4L292.2 192.6L292.6 191.9L293.0 192.0L293.4 192.0L293.8 191.6L294.2 193.0L294.6 192.0L295.0 192.1L295.4 192.3L295.8 192.6L296.2 191.1L296.6 191.2L297.0 191.9L297.4 192.1L297.8 191.1L298.2 191.0L298.6 192.2L299.0 192.2L299.4 191.6L299.8 191.6L300.2 191.4L300.6 191.1L301.0 191.3L301.4 191.9L301.8 191.7L302.2 192.3L302.6 191.1L303.0 190.8L303.4 192.1L303.8 191.3L304.2 191.6L304.6 191.8L305.0 191.1L305.4 190.9L305.8 191.9L306.2 190.3L306.6 192.1L307.0 190.8L307.4 192.2L307.8 191.9L308.2 191.9L308.6 192.0L309.0 191.8L309.4 191.0L309.8 192.2L310.2 191.8L310.6 192.0L311.0 191.7L311.4 191.6L311.8 192.3L312.2 192.3L312.6 191.9L313.0 191.1L313.4 191.2L313.8 191.2L314.2 192.4L314.6 192.0L315.0 191.8L315.4 191.7L315.8 191.4L316.2 192.2L316.6 191.2L317.0 191.3L317.4 192.2L317.8 192.1L318.2 191.8L318.6 191.1L319.0 191.1L319.4 192.3L319.8 192.0L320.2 192.6L320.6 191.5L321.0 191.8L321.4 191.3L321.8 192.7L322.2 190.9L322.6 192.1L323.0 192.7L323.4 191.3L323.8 191.0L324.2 191.3L324.6 191.0L325.0 192.0L325.4 191.8L325.8 191.3L326.2 191.7L326.6 192.6L327.0 191.7L327.4 191.6L327.8 192.9L328.2 191.3L328.6 191.6L329.0 192.6L329.4 191.8L329.8 190.8L330.2 191.3L330.6 190.6L331.0 191.4L331.4 192.0L331.8 190.9L332.2 192.6L332.6 192.5L333.0 192.2L333.4 191.4L333.8 191.8L334.2 192.1L334.6 192.3L335.0 192.5L335.4 190.6L335.8 191.4L336.2 191.2L336.6 191.6L337.0 191.9L337.4 193.1L337.8 191.7L338.2 192.3L338.6 191.8L339.0 191.8L339.4 192.7L339.8 191.2L340.2 192.2L340.6 192.9L341.0 193.7L341.4 191.5L341.8 191.3L342.2 191.1L342.6 191.6L343.0 191.8L343.4 191.8L343.8 192.4L344.2 191.6L344.6 192.0L345.0 190.9L345.4 191.4L345.8 191.7L346.2 190.5L346.6 191.8L347.0 192.3L347.4 191.8L347.8 191.9L348.2 191.8L348.6 191.1L349.0 191.8L349.4 191.5L349.8 191.8L350.2 191.8L350.6 191.8L351.0 191.1L351.4 191.7L351.8 192.7L352.2 192.3L352.6 191.7L353.0 191.4L353.4 192.3L353.8 191.8L354.2 190.8L354.6 191.5L355.0 192.7L355.4 190.8L355.8 191.8L356.2 191.4L356.6 191.7L357.0 191.5L357.4 191.3L357.8 190.3L358.2 191.6L358.6 191.8L359.0 191.7L359.4 191.2L359.8 191.4L360.2 193.0L360.6 191.1L361.0 191.6L361.4 191.1L361.8 191.6L362.2 191.9L362.6 192.4L363.0 191.9L363.4 191.8L363.8 192.0L364.2 192.1L364.6 191.7L365.0 191.7L365.4 192.4L365.8 191.4L366.2 191.7L366.6 191.3L367.0 191.5L367.4 192.6L367.8 191.4L368.2 192.0L368.6 192.9L369.0 192.0L369.4 191.7L369.8 191.3L370.2 190.3L370.6 191.2L371.0 191.2L371.4 192.3L371.8 192.1L372.2 191.0L372.6 192.1L373.0 191.4L373.4 192.8L373.8 192.6L374.2 192.1L374.6 191.5L375.0 192.7L375.4 192.3L375.8 192.4L376.2 192.1L376.6 191.6L377.0 192.2L377.4 191.3L377.8 192.2L378.2 191.9L378.6 190.9L379.0 192.1L379.4 191.8L379.8 191.6L380.2 191.7L380.6 192.2L381.0 191.2L381.4 191.2L381.8 192.2L382.2 191.9L382.6 190.8L383.0 191.9L383.4 190.8L383.8 192.2L384.2 191.9L384.6 192.0L385.0 190.9L385.4 191.3L385.8 192.2L386.2 191.0L386.6 192.0L387.0 191.6L387.4 191.8L387.8 191.3L388.2 192.1L388.6 192.0L389.0 192.2L389.4 193.1L389.8 191.6L390.2 191.8L390.6 191.2L391.0 192.7L391.4 191.6L391.8 192.2L392.2 191.1L392.6 191.6L393.0 192.1L393.4 192.0L393.8 191.6L394.2 192.3L394.6 191.9L395.0 192.4L395.4 191.7L395.8 192.2L396.2 191.5L396.6 192.5L397.0 191.8L397.4 191.8L397.8 191.5L398.2 192.4L398.6 191.9L399.0 191.7L399.4 192.5L399.8 191.4L400.2 192.4L400.6 192.6L401.0 190.9L401.4 192.3L401.8 192.1L402.2 191.9L402.6 192.0L403.0 191.1L403.4 192.1L403.8 191.9L404.2 191.0L404.6 191.7L405.0 191.1L405.4 191.8L405.8 191.3L406.2 191.9L406.6 191.0L407.0 191.5L407.4 191.6L407.8 191.7L408.2 192.4L408.6 193.0L409.0 190.9L409.4 192.2L409.8 191.6L410.2 191.6L410.6 191.6L411.0 191.7L411.4 191.7L411.8 192.2L412.2 192.5L412.6 192.0L413.0 191.8L413.4 192.1L413.8 192.0L414.2 192.8L414.6 191.3L415.0 191.0L415.4 191.6L415.8 191.9L416.2 191.7L416.6 191.9L417.0 190.4L417.4 191.3L417.8 191.4L418.2 191.0L418.6 191.4L419.0 191.6L419.4 192.0L419.8 191.2L420.2 190.8L420.6 191.9L421.0 192.8L421.4 191.8L421.8 191.8L422.2 191.2L422.6 191.8L423.0 192.6L423.4 190.7L423.8 192.3L424.2 190.7L424.6 192.5L425.0 192.2L425.4 191.6L425.8 191.9L426.2 192.6L426.6 191.2L427.0 192.4L427.4 192.1L427.8 191.7L428.2 192.5L428.6 190.9L429.0 191.7L429.4 191.1L429.8 191.7L430.2 192.0L430.6 190.9L431.0 191.9L431.4 191.9L431.8 191.4L432.2 191.7L432.6 192.3L433.0 191.9L433.4 192.6L433.8 191.2L434.2 191.1L434.6 192.4L435.0 191.0L435.4 192.4L435.8 191.7L436.2 192.1L436.6 191.5L437.0 192.3L437.4 192.5L437.8 192.4L438.2 192.0L438.6 191.0L439.0 192.3L439.4 191.8L439.8 192.5L440.2 190.9L440.6 192.0L441.0 191.5L441.4 191.7L441.8 192.2L442.2 192.2L442.6 192.5L443.0 192.0L443.4 192.0L443.8 191.9L444.2 191.1L444.6 192.3L445.0 191.3L445.4 191.5L445.8 192.0L446.2 191.4L446.6 191.5L447.0 190.4L447.4 191.3L447.8 191.1L448.2 191.4L448.6 192.0L449.0 191.6L449.4 191.6L449.8 191.8L450.2 192.3L450.6 192.3L451.0 191.9L451.4 191.6L451.8 192.2L452.2 191.6L452.6 191.6L453.0 191.9L453.4 191.5L453.8 191.1L454.2 191.1L454.6 191.6L455.0 191.8L455.4 192.1L455.8 191.3L456.2 191.8L456.6 191.7L457.0 191.5L457.4 193.1L457.8 191.3L458.2 191.3L458.6 191.8L459.0 192.5L459.4 191.5L459.8 192.4L460.2 191.2L460.6 191.5L461.0 191.6L461.4 191.6L461.8 191.8L462.2 191.7L462.6 191.6L463.0 191.2L463.4 192.0L463.8 191.8L464.2 191.9L464.6 192.4L465.0 192.0L465.4 191.9L465.8 192.5L466.2 191.5L466.6 190.9L467.0 191.4L467.4 191.1L467.8 191.6L468.2 191.6L468.6 191.7L469.0 191.9L469.4 192.1L469.8 192.0L470.2 191.8L470.6 191.6L471.0 191.5L471.4 191.7L471.8 191.6L472.2 191.1L472.6 191.5L473.0 192.1L473.4 191.7L473.8 191.3L474.2 191.8L474.6 192.0L475.0 191.1L475.4 192.6L475.8 192.3L476.2 191.6L476.6 192.3L477.0 191.8L477.4 192.0L477.8 191.2L478.2 191.4L478.6 191.6L479.0 191.6L479.4 191.4L479.8 190.9L480.2 191.1L480.6 191.9L481.0 191.5L481.4 192.5L481.8 192.4L482.2 191.5L482.6 191.8L483.0 190.7L483.4 192.0L483.8 192.2L484.2 191.2L484.6 191.2L485.0 191.3L485.4 192.0L485.8 192.2L486.2 191.1L486.6 191.4L487.0 191.9L487.4 191.7L487.8 191.5L488.2 191.9L488.6 191.2L489.0 190.9L489.4 191.9L489.8 192.0L490.2 192.3L490.6 191.5L491.0 191.2L491.4 191.6L491.8 191.6L492.2 191.6L492.6 191.6L493.0 192.3L493.4 191.8L493.8 192.3L494.2 191.2L494.6 191.1L495.0 192.1L495.4 191.0L495.8 191.0L496.2 191.0L496.6 190.6L497.0 191.8L497.4 192.4L497.8 191.9L498.2 192.0L498.6 191.4L499.0 191.1L499.4 191.8L499.8 191.0L500.2 190.8L500.6 191.1L501.0 192.1L501.4 191.7L501.8 191.4L502.2 191.0L502.6 191.0L503.0 191.7L503.4 191.5L503.8 191.1L504.2 192.1L504.6 191.1L505.0 190.6L505.4 191.3L505.8 192.0L506.2 191.8L506.6 191.9L507.0 191.0L507.4 191.7L507.8 191.5L508.2 191.3L508.6 190.8L509.0 192.0L509.4 191.5L509.8 191.1L510.2 191.8L510.6 192.7L511.0 190.6L511.4 191.5L511.8 192.3L512.2 192.3L512.6 190.8L513.0 191.0L513.4 190.2L513.8 191.3L514.2 190.5L514.6 190.7L515.0 192.0L515.4 190.6L515.8 190.3L516.2 191.2L516.6 191.3L517.0 191.3L517.4 191.8L517.8 190.9L518.2 191.1L518.6 191.5L519.0 191.0L519.4 191.9L519.8 191.7L520.2 191.2L520.6 191.1L521.0 191.2L521.4 191.3L521.8 190.1L522.2 190.5L522.6 190.7L523.0 190.7L523.4 190.8L523.8 190.8L524.2 191.1L524.6 190.9L525.0 191.2L525.4 191.2L525.8 191.0L526.2 190.8L526.6 190.6L527.0 191.4L527.4 190.7L527.8 191.1L528.2 191.3L528.6 191.0L529.0 190.1L529.4 190.5L529.8 191.9L530.2 190.0L530.6 191.5L531.0 190.2L531.4 190.8L531.8 191.3L532.2 190.2L532.6 191.3L533.0 189.6L533.4 190.6L533.8 190.4L534.2 190.9L534.6 191.1L535.0 191.3L535.4 191.2L535.8 190.4L536.2 190.1L536.6 190.8L537.0 190.3L537.4 189.5L537.8 189.4L538.2 190.3L538.6 190.3L539.0 190.5L539.4 190.6L539.8 189.6L540.2 190.6L540.6 189.8L541.0 190.7L541.4 190.4L541.8 191.2L542.2 190.6L542.6 190.1L543.0 190.3L543.4 190.4L543.8 190.7" stroke="#ff0000" stroke-width="2.5" fill="none" stroke-dasharray="6.6 2 2.8 2.1" stroke-linejoin="round"/>
<path clip-path="url(#c1)" d="M67.0 189.6L67.5 188.7L68.0 188.1L68.5 187.7L69.0 187.6L69.5 187.8L70.0 188.2L70.5 188.6L71.0 189.0L71.5 189.4L72.0 189.8L72.5 190.3L73.0 190.7L73.5 191.0L74.0 191.2L74.5 191.5L75.0 191.7L75.5 191.9L76.0 192.1L76.5 192.3L77.0 192.4L77.5 192.6L78.0 192.7L78.5 192.8L79.0 192.9L79.5 193.0L80.0 193.0L80.5 193.0L81.0 193.0L81.5 193.0L82.0 193.0L82.5 193.1L83.0 193.1L83.5 193.1L84.0 193.1L84.5 193.1L85.0 193.1L85.5 193.1L86.0 193.1L86.5 193.1L87.0 193.1L87.5 193.1L88.0 193.1L88.5 193.1L89.0 193.1L89.5 193.1L90.0 193.1L90.5 193.1L91.0 193.1L91.5 193.1L92.0 193.2L92.5 193.2L93.0 193.2L93.5 193.2L94.0 193.2L94.5 193.2L95.0 193.2L95.5 193.2L96.0 193.2L96.5 193.2L97.0 193.2L97.5 193.3L98.0 193.3L98.5 193.3L99.0 193.3L99.5 193.3L100.0 193.3L100.5 193.4L101.0 193.4L101.5 193.4L102.0 193.4L102.5 193.4L103.0 193.5L103.5 193.5L104.0 193.5L104.5 193.5L105.0 193.6L105.5 193.6L106.0 193.6L106.5 193.7L107.0 193.7L107.5 193.7L108.0 193.8L108.5 193.8L109.0 193.8L109.5 193.9L110.0 193.9L110.5 193.9L111.0 194.0L111.5 194.0L112.0 194.1L112.5 194.1L113.0 194.2L113.5 194.3L114.0 194.4L114.5 194.5L115.0 194.7L115.5 194.9L116.0 195.3L116.5 195.7L117.0 196.1L117.5 196.4L118.0 196.7L118.5 196.9L119.0 197.2L119.5 197.4L120.0 197.6L120.5 197.9L121.0 198.1L121.5 198.3L122.0 198.5L122.5 198.6L123.0 198.8L123.5 199.0L124.0 199.1L124.5 199.3L125.0 199.4L125.5 199.5L126.0 199.7L126.5 199.8L127.0 199.9L127.5 200.0L128.0 200.1L128.5 200.2L129.0 200.4L129.5 200.5L130.0 200.6L130.5 200.7L131.0 200.9L131.5 201.0L132.0 201.2L132.5 201.3L133.0 201.5L133.5 201.7L134.0 201.8L134.5 202.0L135.0 202.1L135.5 202.2L136.0 202.3L136.5 202.4L137.0 202.4L137.5 202.4L138.0 202.4L138.5 202.4L139.0 202.4L139.5 202.4L140.0 202.4L140.5 202.4L141.0 202.4L141.5 202.4L142.0 202.4L142.5 202.4L143.0 202.4L143.5 202.4L144.0 202.4L144.5 202.4L145.0 202.4L145.5 202.4L146.0 202.4L146.5 202.4L147.0 202.4L147.5 202.4L148.0 202.4L148.5 202.3L149.0 202.3L149.5 202.2L150.0 202.1L150.5 202.0L151.0 201.9L151.5 201.8L152.0 201.7L152.5 201.6L153.0 201.5L153.5 201.3L154.0 201.2L154.5 201.1L155.0 201.0L155.5 200.9L156.0 200.9L156.5 200.8L157.0 200.7L157.5 200.7L158.0 200.7L158.5 200.7L159.0 200.6L159.5 200.6L160.0 200.6L160.5 200.6L161.0 200.6L161.5 200.6L162.0 200.6L162.5 200.6L163.0 200.5L163.5 200.5L164.0 200.5L164.5 200.5L165.0 200.5L165.5 200.4L166.0 200.4L166.5 200.3L167.0 200.3L167.5 200.2L168.0 200.2L168.5 200.1L169.0 200.1L169.5 200.0L170.0 199.9L170.5 199.9L171.0 199.8L171.5 199.8L172.0 199.7L172.5 199.6L173.0 199.6L173.5 199.5L174.0 199.5L174.5 199.5L175.0 199.4L175.5 199.4L176.0 199.4L176.5 199.4L177.0 199.4L177.5 199.4L178.0 199.4L178.5 199.4L179.0 199.4L179.5 199.4L180.0 199.5L180.5 199.5L181.0 199.5L181.5 199.5L182.0 199.5L182.5 199.6L183.0 199.6L183.5 199.6L184.0 199.7L184.5 199.7L185.0 199.7L185.5 199.8L186.0 199.8L186.5 199.9L187.0 199.9L187.5 200.0L188.0 200.0L188.5 200.1L189.0 200.1L189.5 200.2L190.0 200.3L190.5 200.5L191.0 200.7L191.5 200.9L192.0 201.0L192.5 201.0L193.0 200.9L193.5 200.7L194.0 200.5L194.5 200.2L195.0 199.9L195.5 199.6L196.0 199.3L196.5 199.0L197.0 198.7L197.5 198.4L198.0 198.1L198.5 197.9L199.0 197.8L199.5 197.7L200.0 197.6L200.5 197.5L201.0 197.4L201.5 197.3L202.0 197.3L202.5 197.2L203.0 197.2L203.5 197.1L204.0 197.1L204.5 197.0L205.0 197.0L205.5 197.0L206.0 197.0L206.5 197.0L207.0 197.0L207.5 197.0L208.0 197.0L208.5 197.1L209.0 197.1L209.5 197.1L210.0 197.1L210.5 197.2L211.0 197.2L211.5 197.2L212.0 197.3L212.5 197.3L213.0 197.4L213.5 197.4L214.0 197.4L214.5 197.5L215.0 197.5L215.5 197.6L216.0 197.6L216.5 197.6L217.0 197.7L217.5 197.7L218.0 197.7L218.5 197.8L219.0 197.8L219.5 197.9L220.0 197.9L220.5 197.9L221.0 198.0L221.5 198.0L222.0 198.0L222.5 198.1L223.0 198.1L223.5 198.2L224.0 198.2L224.5 198.2L225.0 198.3L225.5 198.3L226.0 198.4L226.5 198.4L227.0 198.5L227.5 198.5L228.0 198.5L228.5 198.6L229.0 198.6L229.5 198.7L230.0 198.7L230.5 198.8L231.0 198.8L231.5 198.9L232.0 199.0L232.5 199.0L233.0 199.1L233.5 199.2L234.0 199.2L234.5 199.3L235.0 199.4L235.5 199.4L236.0 199.5L236.5 199.5L237.0 199.6L237.5 199.7L238.0 199.7L238.5 199.7L239.0 199.8L239.5 199.8L240.0 199.9L240.5 199.9L241.0 199.9L241.5 199.9L242.0 199.9L242.5 199.9L243.0 199.9L243.5 199.9L244.0 199.8L244.5 199.8L245.0 199.8L245.5 199.7L246.0 199.7L246.5 199.6L247.0 199.6L247.5 199.5L248.0 199.5L248.5 199.4L249.0 199.4L249.5 199.3L250.0 199.3L250.5 199.2L251.0 199.2L251.5 199.1L252.0 199.0L252.5 199.0L253.0 199.0L253.5 198.9L254.0 198.9L254.5 198.8L255.0 198.8L255.5 198.8L256.0 198.7L256.5 198.7L257.0 198.7L257.5 198.7L258.0 198.6L258.5 198.6L259.0 198.6L259.5 198.5L260.0 198.5L260.5 198.5L261.0 198.4L261.5 198.4L262.0 198.4L262.5 198.4L263.0 198.3L263.5 198.3L264.0 198.3L264.5 198.3L265.0 198.3L265.5 198.2L266.0 198.2L266.5 198.2L267.0 198.2L267.5 198.2L268.0 198.2L268.5 198.2L269.0 198.2L269.5 198.2L270.0 198.2L270.5 198.2L271.0 198.2L271.5 198.2L272.0 198.2L272.5 198.2L273.0 198.2L273.5 198.2L274.0 198.2L274.5 198.2L275.0 198.2L275.5 198.2L276.0 198.2L276.5 198.2L277.0 198.2L277.5 198.2L278.0 198.2L278.5 198.2L279.0 198.2L279.5 198.2L280.0 198.2L280.5 198.2L281.0 198.2L281.5 198.2L282.0 198.2L282.5 198.2L283.0 198.2L283.5 198.2L284.0 198.2L284.5 198.2L285.0 198.2L285.5 198.2L286.0 198.2L286.5 198.2L287.0 198.2L287.5 198.2L288.0 198.2L288.5 198.2L289.0 198.2L289.5 198.2L290.0 198.2L290.5 198.2L291.0 198.2L291.5 198.2L292.0 198.2L292.5 198.2L293.0 198.2L293.5 198.2L294.0 198.2L294.5 198.2L295.0 198.3L295.5 198.3L296.0 198.3L296.5 198.3L297.0 198.3L297.5 198.3L298.0 198.3L298.5 198.3L299.0 198.4L299.5 198.4L300.0 198.4L300.5 198.4L301.0 198.5L301.5 198.5L302.0 198.6L302.5 198.7L303.0 198.8L303.5 198.9L304.0 199.1L304.5 199.2L305.0 199.3L305.5 199.4L306.0 199.5L306.5 199.6L307.0 199.8L307.5 199.8L308.0 199.9L308.5 200.0L309.0 200.0L309.5 200.1L310.0 200.1L310.5 200.2L311.0 200.2L311.5 200.3L312.0 200.3L312.5 200.3L313.0 200.4L313.5 200.4L314.0 200.4L314.5 200.5L315.0 200.5L315.5 200.5L316.0 200.5L316.5 200.6L317.0 200.6L317.5 200.6L318.0 200.7L318.5 200.7L319.0 200.7L319.5 200.8L320.0 200.8L320.5 200.8L321.0 200.9L321.5 200.9L322.0 201.0L322.5 201.0L323.0 201.0L323.5 201.1L324.0 201.1L324.5 201.2L325.0 201.2L325.5 201.3L326.0 201.4L326.5 201.4L327.0 201.5L327.5 201.5L328.0 201.6L328.5 201.6L329.0 201.7L329.5 201.8L330.0 201.8L330.5 201.9L331.0 201.9L331.5 202.0L332.0 202.1L332.5 202.1L333.0 202.2L333.5 202.2L334.0 202.3L334.5 202.4L335.0 202.4L335.5 202.5L336.0 202.6L336.5 202.6L337.0 202.7L337.5 202.8L338.0 202.8L338.5 202.9L339.0 202.9L339.5 203.0L340.0 203.1L340.5 203.1L341.0 203.2L341.5 203.3L342.0 203.4L342.5 203.5L343.0 203.5L343.5 203.6L344.0 203.7L344.5 203.8L345.0 203.9L345.5 204.0L346.0 204.0L346.5 204.1L347.0 204.2L347.5 204.3L348.0 204.3L348.5 204.4L349.0 204.4L349.5 204.5L350.0 204.5L350.5 204.5L351.0 204.5L351.5 204.5L352.0 204.5L352.5 204.5L353.0 204.5L353.5 204.5L354.0 204.5L354.5 204.5L355.0 204.5L355.5 204.5L356.0 204.5L356.5 204.5L357.0 204.5L357.5 204.5L358.0 204.5L358.5 204.5L359.0 204.5L359.5 204.5L360.0 204.5L360.5 204.5L361.0 204.5L361.5 204.5L362.0 204.5L362.5 204.5L363.0 204.4L363.5 204.3L364.0 204.1L364.5 204.0L365.0 203.8L365.5 203.6L366.0 203.4L366.5 203.2L367.0 203.0L367.5 202.8L368.0 202.5L368.5 202.2L369.0 201.9L369.5 201.6L370.0 201.2L370.5 200.9L371.0 200.6L371.5 200.4L372.0 200.2L372.5 200.1L373.0 200.1L373.5 200.1L374.0 200.2L374.5 200.3L375.0 200.5L375.5 200.7L376.0 200.9L376.5 201.1L377.0 201.3L377.5 201.6L378.0 201.9L378.5 202.2L379.0 202.4L379.5 202.7L380.0 203.0L380.5 203.3L381.0 203.6L381.5 203.9L382.0 204.2L382.5 204.5L383.0 204.7L383.5 204.9L384.0 205.1L384.5 205.3L385.0 205.5L385.5 205.7L386.0 205.9L386.5 206.1L387.0 206.3L387.5 206.5L388.0 206.6L388.5 206.8L389.0 207.0L389.5 207.2L390.0 207.4L390.5 207.5L391.0 207.7L391.5 207.9L392.0 208.1L392.5 208.2L393.0 208.4L393.5 208.5L394.0 208.7L394.5 208.9L395.0 209.0L395.5 209.2L396.0 209.3L396.5 209.5L397.0 209.6L397.5 209.7L398.0 209.9L398.5 210.0L399.0 210.1L399.5 210.2L400.0 210.4L400.5 210.5L401.0 210.6L401.5 210.7L402.0 210.9L402.5 211.0L403.0 211.2L403.5 211.3L404.0 211.5L404.5 211.6L405.0 211.8L405.5 212.0L406.0 212.2L406.5 212.4L407.0 212.6L407.5 212.9L408.0 213.1L408.5 213.4L409.0 213.7L409.5 213.9L410.0 214.2L410.5 214.5L411.0 214.8L411.5 215.1L412.0 215.4L412.5 215.7L413.0 216.0L413.5 216.3L414.0 216.6L414.5 216.9L415.0 217.2L415.5 217.5L416.0 217.8L416.5 218.1L417.0 218.3L417.5 218.6L418.0 218.8L418.5 219.1L419.0 219.4L419.5 219.6L420.0 219.9L420.5 220.2L421.0 220.4L421.5 220.7L422.0 220.9L422.5 221.2L423.0 221.4L423.5 221.7L424.0 221.9L424.5 222.2L425.0 222.4L425.5 222.7L426.0 222.9L426.5 223.1L427.0 223.4L427.5 223.6L428.0 223.8L428.5 224.0L429.0 224.2L429.5 224.4L430.0 224.6L430.5 224.8L431.0 225.0L431.5 225.2L432.0 225.4L432.5 225.5L433.0 225.7L433.5 225.9L434.0 226.1L434.5 226.3L435.0 226.5L435.5 226.7L436.0 226.9L436.5 227.1L437.0 227.3L437.5 227.5L438.0 227.8L438.5 228.0L439.0 228.2L439.5 228.5L440.0 228.8L440.5 229.0L441.0 229.3L441.5 229.6L442.0 229.9L442.5 230.2L443.0 230.5L443.5 230.8L444.0 231.1L444.5 231.5L445.0 231.8L445.5 232.1L446.0 232.4L446.5 232.7L447.0 233.0L447.5 233.4L448.0 233.7L448.5 234.0L449.0 234.3L449.5 234.6L450.0 234.9L450.5 235.2L451.0 235.5L451.5 235.8L452.0 236.2L452.5 236.5L453.0 236.8L453.5 237.1L454.0 237.4L454.5 237.8L455.0 238.1L455.5 238.4L456.0 238.7L456.5 239.0L457.0 239.3L457.5 239.6L458.0 239.9L458.5 240.2L459.0 240.5L459.5 240.7L460.0 241.0L460.5 241.2L461.0 241.5L461.5 241.7L462.0 241.9L462.5 242.2L463.0 242.4L463.5 242.6L464.0 242.8L464.5 243.0L465.0 243.2L465.5 243.4L466.0 243.6L466.5 243.9L467.0 244.1L467.5 244.3L468.0 244.5L468.5 244.7L469.0 244.9L469.5 245.2L470.0 245.4L470.5 245.6L471.0 245.8L471.5 246.0L472.0 246.3L472.5 246.5L473.0 246.7L473.5 246.9L474.0 247.2L474.5 247.4L475.0 247.6L475.5 247.8L476.0 248.1L476.5 248.3L477.0 248.5L477.5 248.8L478.0 249.1L478.5 249.3L479.0 249.6L479.5 249.9L480.0 250.2L480.5 250.4L481.0 250.7L481.5 250.9L482.0 251.1L482.5 251.3L483.0 251.5L483.5 251.6L484.0 251.7L484.5 251.8L485.0 251.9L485.5 252.0L486.0 252.1L486.5 252.2L487.0 252.3L487.5 252.3L488.0 252.4L488.5 252.5L489.0 252.5L489.5 252.6L490.0 252.7L490.5 252.7L491.0 252.8L491.5 252.8L492.0 252.9L492.5 253.0L493.0 253.0L493.5 253.1L494.0 253.2L494.5 253.2L495.0 253.3L495.5 253.3L496.0 253.4L496.5 253.5L497.0 253.5L497.5 253.6L498.0 253.6L498.5 253.7L499.0 253.7L499.5 253.8L500.0 253.9L500.5 253.9L501.0 254.0L501.5 254.0L502.0 254.1L502.5 254.2L503.0 254.2L503.5 254.3L504.0 254.4L504.5 254.4L505.0 254.5L505.5 254.6L506.0 254.7L506.5 254.8L507.0 254.9L507.5 254.9L508.0 255.0L508.5 255.1L509.0 255.2L509.5 255.3L510.0 255.4L510.5 255.5L511.0 255.6L511.5 255.7L512.0 255.8L512.5 255.9L513.0 255.9L513.5 256.0L514.0 256.1L514.5 256.2L515.0 256.3L515.5 256.4L516.0 256.5L516.5 256.6L517.0 256.6L517.5 256.7L518.0 256.8L518.5 256.9L519.0 256.9L519.5 257.0L520.0 257.1L520.5 257.1L521.0 257.2L521.5 257.3L522.0 257.3L522.5 257.4L523.0 257.4L523.5 257.5L524.0 257.6L524.5 257.6L525.0 257.7L525.5 257.8L526.0 257.8L526.5 257.9L527.0 257.9L527.5 258.0L528.0 258.0L528.5 258.1L529.0 258.2L529.5 258.2L530.0 258.3L530.5 258.3L531.0 258.4L531.5 258.4L532.0 258.5L532.5 258.5L533.0 258.6L533.5 258.6L534.0 258.7L534.5 258.7L535.0 258.8L535.5 258.8L536.0 258.9L536.5 258.9L537.0 259.0L537.5 259.0L538.0 259.1L538.5 259.1L539.0 259.1L539.5 259.2L540.0 259.2L540.5 259.3L541.0 259.3L541.5 259.3L542.0 259.4L542.5 259.4L543.0 259.4L543.5 259.5L544.0 259.5" stroke="#00ff00" stroke-width="1.8" fill="none" stroke-dasharray="8.5 5" stroke-linejoin="round"/>
<path clip-path="url(#c2)" d="M67.0 358.6L67.6 359.3L68.2 359.7L68.8 357.9L69.4 359.8L70.0 359.3L70.6 359.9L71.2 359.3L71.8 360.3L72.4 358.0L73.0 361.0L73.6 360.3L74.2 358.3L74.8 359.7L75.4 359.5L76.0 357.1L76.6 359.6L77.2 358.3L77.8 358.6L78.4 358.2L79.0 358.3L79.6 358.8L80.2 358.7L80.8 356.9L81.4 358.2L82.0 356.9L82.6 356.9L83.2 357.9L83.8 359.1L84.4 358.8L85.0 357.3L85.6 357.1L86.2 356.9L86.8 357.9L87.4 358.6L88.0 357.5L88.6 358.1L89.2 357.5L89.8 358.7L90.4 354.7L91.0 354.4L91.6 356.4L92.2 357.2L92.8 355.9L93.4 356.7L94.0 354.9L94.6 354.7L95.2 355.2L95.8 356.8L96.4 356.6L97.0 355.0L97.6 355.9L98.2 355.0L98.8 355.6L99.4 354.3L100.0 355.5L100.6 354.7L101.2 355.4L101.8 354.7L102.4 354.4L103.0 355.4L103.6 354.8L104.2 355.1L104.8 354.6L105.4 355.6L106.0 353.9L106.6 355.6L107.2 356.0L107.8 354.1L108.4 356.2L109.0 356.3L109.6 354.4L110.2 352.2L110.8 351.7L111.4 353.0L112.0 355.0L112.6 353.3L113.2 353.0L113.8 351.4L114.4 350.3L115.0 350.9L115.6 348.8L116.2 349.5L116.8 350.1L117.4 349.6L118.0 350.2L118.6 349.3L119.2 350.6L119.8 350.6L120.4 348.6L121.0 349.4L121.6 350.0L122.2 351.7L122.8 351.4L123.4 351.5L124.0 351.4L124.6 352.0L125.2 352.4L125.8 350.9L126.4 349.9L127.0 352.5L127.6 351.8L128.2 352.6L128.8 352.9L129.4 352.5L130.0 352.7L130.6 355.9L131.2 356.5L131.8 356.7L132.4 356.3L133.0 356.7L133.6 356.2L134.2 357.0L134.8 356.8L135.4 356.9L136.0 358.0L136.6 359.9L137.2 356.2L137.8 359.2L138.4 359.5L139.0 357.7L139.6 359.5L140.2 359.5L140.8 359.1L141.4 359.3L142.0 358.6L142.6 362.3L143.2 363.3L143.8 362.8L144.4 361.2L145.0 362.3L145.6 362.9L146.2 362.1L146.8 363.2L147.4 364.7L148.0 364.3L148.6 363.7L149.2 365.3L149.8 368.0L150.4 368.4L151.0 369.3L151.6 371.9L152.2 371.0L152.8 370.2L153.4 370.9L154.0 373.4L154.6 369.8L155.2 373.0L155.8 372.6L156.4 370.8L157.0 370.6L157.6 372.6L158.2 371.2L158.8 370.1L159.4 372.2L160.0 369.9L160.6 369.4L161.2 368.4L161.8 367.3L162.4 367.1L163.0 365.8L163.6 366.0L164.2 365.8L164.8 365.1L165.4 364.7L166.0 364.6L166.6 363.4L167.2 361.6L167.8 363.0L168.4 359.8L169.0 360.5L169.6 361.2L170.2 358.6L170.8 361.6L171.4 358.5L172.0 357.6L172.6 358.2L173.2 357.9L173.8 358.5L174.4 358.2L175.0 359.4L175.6 357.9L176.2 358.1L176.8 356.7L177.4 358.2L178.0 356.7L178.6 355.2L179.2 358.7L179.8 355.9L180.4 355.7L181.0 355.7L181.6 357.2L182.2 354.5L182.8 355.5L183.4 356.3L184.0 357.5L184.6 354.9L185.2 355.0L185.8 353.7L186.4 356.6L187.0 354.0L187.6 353.8L188.2 353.9L188.8 352.5L189.4 353.3L190.0 351.8L190.6 354.7L191.2 352.9L191.8 352.8L192.4 354.3L193.0 351.8L193.6 354.8L194.2 355.2L194.8 353.0L195.4 354.9L196.0 354.3L196.6 355.7L197.2 355.1L197.8 354.4L198.4 356.3L199.0 355.6L199.6 356.1L200.2 357.1L200.8 357.4L201.4 356.8L202.0 354.6L202.6 356.9L203.2 355.9L203.8 357.4L204.4 356.1L205.0 357.9L205.6 356.9L206.2 356.4L206.8 356.8L207.4 354.5L208.0 357.1L208.6 356.6L209.2 355.3L209.8 357.0L210.4 357.0L211.0 357.0L211.6 356.5L212.2 357.5L212.8 357.6L213.4 356.8L214.0 356.7L214.6 356.3L215.2 356.1L215.8 357.5L216.4 356.2L217.0 355.3L217.6 357.1L218.2 358.1L218.8 356.6L219.4 357.8L220.0 357.4L220.6 355.8L221.2 357.3L221.8 356.8L222.4 357.7L223.0 353.9L223.6 357.9L224.2 357.8L224.8 356.0L225.4 358.2L226.0 356.8L226.6 357.2L227.2 357.9L227.8 358.5L228.4 357.2L229.0 357.8L229.6 357.5L230.2 356.2L230.8 358.8L231.4 357.9L232.0 357.2L232.6 358.2L233.2 357.6L233.8 356.4L234.4 358.1L235.0 357.1L235.6 357.7L236.2 358.1L236.8 358.1L237.4 359.1L238.0 357.2L238.6 356.8L239.2 356.2L239.8 356.3L240.4 357.8L241.0 357.5L241.6 356.1L242.2 356.4L242.8 356.6L243.4 358.7L244.0 356.0L244.6 357.4L245.2 355.3L245.8 356.8L246.4 358.6L247.0 355.7L247.6 358.3L248.2 355.0L248.8 357.1L249.4 355.8L250.0 357.0L250.6 356.8L251.2 357.9L251.8 357.3L252.4 357.2L253.0 356.4L253.6 357.5L254.2 356.2L254.8 356.3L255.4 356.4L256.0 357.7L256.6 359.5L257.2 357.0L257.8 359.2L258.4 355.9L259.0 356.4L259.6 357.6L260.2 357.7L260.8 357.9L261.4 358.8L262.0 356.8L262.6 358.2L263.2 357.3L263.8 353.9L264.4 356.0L265.0 356.5L265.6 357.2L266.2 357.6L266.8 356.7L267.4 358.5L268.0 356.0L268.6 357.0L269.2 358.1L269.8 355.8L270.4 358.4L271.0 358.1L271.6 356.9L272.2 357.1L272.8 357.0L273.4 357.1L274.0 358.4L274.6 357.6L275.2 355.5L275.8 355.4L276.4 357.7L277.0 354.2L277.6 355.3L278.2 356.4L278.8 357.0L279.4 358.5L280.0 357.2L280.6 360.9L281.2 357.3L281.8 358.0L282.4 358.2L283.0 357.0L283.6 358.2L284.2 357.9L284.8 357.5L285.4 356.6L286.0 356.9L286.6 358.3L287.2 357.4L287.8 358.0L288.4 358.1L289.0 358.0L289.6 357.8L290.2 358.5L290.8 358.8L291.4 359.5L292.0 358.6L292.6 357.5L293.2 357.5L293.8 359.1L294.4 356.8L295.0 358.1L295.6 359.9L296.2 358.6L296.8 358.4L297.4 360.6L298.0 356.4L298.6 359.4L299.2 359.0L299.8 359.0L300.4 360.5L301.0 361.1L301.6 360.7L302.2 360.0L302.8 359.6L303.4 358.9L304.0 359.1L304.6 357.1L305.2 358.2L305.8 359.3L306.4 358.4L307.0 359.3L307.6 356.6L308.2 357.6L308.8 357.0L309.4 359.2L310.0 357.7L310.6 357.7L311.2 356.6L311.8 357.4L312.4 356.8L313.0 357.3L313.6 360.3L314.2 356.6L314.8 357.6L315.4 356.8L316.0 359.2L316.6 356.7L317.2 356.8L317.8 358.1L318.4 359.5L319.0 358.0L319.6 357.1L320.2 354.9L320.8 353.7L321.4 357.5L322.0 357.6L322.6 358.9L323.2 358.1L323.8 357.3L324.4 358.9L325.0 359.4L325.6 356.8L326.2 358.5L326.8 358.8L327.4 356.6L328.0 358.1L328.6 357.4L329.2 358.7L329.8 358.6L330.4 355.1L331.0 357.1L331.6 358.9L332.2 357.9L332.8 356.2L333.4 356.8L334.0 356.2L334.6 357.7L335.2 355.9L335.8 358.7L336.4 358.2L337.0 359.1L337.6 358.5L338.2 358.4L338.8 358.3L339.4 357.9L340.0 355.2L340.6 357.9L341.2 356.4L341.8 354.6L342.4 359.0L343.0 357.3L343.6 355.5L344.2 357.6L344.8 357.7L345.4 357.5L346.0 358.9L346.6 356.0L347.2 358.2L347.8 356.2L348.4 357.8L349.0 358.0L349.6 356.7L350.2 360.0L350.8 355.2L351.4 355.6L352.0 356.7L352.6 356.3L353.2 358.5L353.8 356.6L354.4 358.7L355.0 356.7L355.6 358.1L356.2 358.1L356.8 357.4L357.4 358.0L358.0 357.6L358.6 359.6L359.2 359.9L359.8 356.9L360.4 357.8L361.0 358.5L361.6 357.9L362.2 359.4L362.8 360.1L363.4 355.1L364.0 356.6L364.6 358.7L365.2 357.8L365.8 356.5L366.4 357.0L367.0 357.4L367.6 359.1L368.2 356.2L368.8 357.5L369.4 358.9L370.0 358.4L370.6 357.1L371.2 356.9L371.8 355.3L372.4 355.4L373.0 356.3L373.6 358.2L374.2 358.1L374.8 358.7L375.4 358.2L376.0 358.1L376.6 357.4L377.2 356.4L377.8 358.6L378.4 356.8L379.0 355.2L379.6 357.7L380.2 357.3L380.8 359.9L381.4 356.9L382.0 357.6L382.6 356.0L383.2 358.0L383.8 357.5L384.4 356.3L385.0 357.5L385.6 355.8L386.2 357.9L386.8 356.7L387.4 357.6L388.0 356.2L388.6 356.4L389.2 357.0L389.8 358.1L390.4 357.4L391.0 354.6L391.6 357.9L392.2 357.1L392.8 357.9L393.4 358.5L394.0 358.1L394.6 356.4L395.2 356.8L395.8 357.8L396.4 358.3L397.0 356.4L397.6 356.5L398.2 356.1L398.8 357.7L399.4 356.4L400.0 359.8L400.6 358.1L401.2 358.5L401.8 357.9L402.4 356.6L403.0 354.4L403.6 358.8L404.2 357.6L404.8 355.1L405.4 360.4L406.0 358.0L406.6 359.0L407.2 357.0L407.8 355.3L408.4 356.4L409.0 358.1L409.6 354.9L410.2 356.6L410.8 358.5L411.4 358.4L412.0 357.3L412.6 354.4L413.2 357.0L413.8 358.7L414.4 358.2L415.0 356.8L415.6 357.7L416.2 357.9L416.8 356.8L417.4 356.5L418.0 356.5L418.6 356.4L419.2 357.2L419.8 357.3L420.4 358.0L421.0 358.0L421.6 357.2L422.2 355.0L422.8 357.9L423.4 356.3L424.0 359.3L424.6 357.0L425.2 359.8L425.8 358.1L426.4 359.2L427.0 357.6L427.6 357.9L428.2 356.9L428.8 356.9L429.4 356.9L430.0 358.2L430.6 356.2L431.2 358.5L431.8 357.1L432.4 358.1L433.0 356.3L433.6 357.5L434.2 355.5L434.8 356.7L435.4 357.2L436.0 356.3L436.6 357.2L437.2 357.6L437.8 357.6L438.4 355.2L439.0 357.1L439.6 357.2L440.2 356.5L440.8 356.4L441.4 359.6L442.0 358.4L442.6 358.6L443.2 358.8L443.8 356.4L444.4 357.2L445.0 355.5L445.6 357.7L446.2 355.4L446.8 356.7L447.4 358.3L448.0 358.1L448.6 356.4L449.2 356.5L449.8 358.9L450.4 358.0L451.0 356.9L451.6 357.7L452.2 357.6L452.8 356.3L453.4 356.9L454.0 355.2L454.6 357.8L455.2 357.6L455.8 358.7L456.4 358.7L457.0 357.0L457.6 359.3L458.2 356.7L458.8 358.6L459.4 357.0L460.0 356.8L460.6 356.2L461.2 357.5L461.8 360.0L462.4 357.7L463.0 358.1L463.6 357.2L464.2 358.1L464.8 358.2L465.4 358.1L466.0 359.1L466.6 357.5L467.2 358.0L467.8 359.3L468.4 358.2L469.0 356.7L469.6 359.0L470.2 358.3L470.8 356.7L471.4 356.7L472.0 357.1L472.6 358.5L473.2 357.9L473.8 358.7L474.4 360.3L475.0 359.5L475.6 357.7L476.2 356.9L476.8 359.1L477.4 356.8L478.0 356.7L478.6 357.5L479.2 357.9L479.8 357.3L480.4 357.9L481.0 354.6L481.6 357.2L482.2 357.6L482.8 358.4L483.4 358.0L484.0 357.4L484.6 360.3L485.2 358.7L485.8 358.3L486.4 358.0L487.0 358.1L487.6 356.7L488.2 356.5L488.8 357.9L489.4 355.9L490.0 358.3L490.6 357.2L491.2 358.4L491.8 357.7L492.4 356.7L493.0 356.8L493.6 357.2L494.2 359.1L494.8 359.1L495.4 357.4L496.0 357.8L496.6 356.7L497.2 359.2L497.8 357.9L498.4 356.9L499.0 356.2L499.6 358.2L500.2 359.7L500.8 357.7L501.4 356.6L502.0 356.7L502.6 357.0L503.2 355.1L503.8 358.6L504.4 357.0L505.0 355.6L505.6 354.4L506.2 358.0L506.8 357.8L507.4 359.2L508.0 358.7L508.6 357.2L509.2 355.7L509.8 357.8L510.4 357.0L511.0 357.7L511.6 355.9L512.2 357.3L512.8 357.3L513.4 356.2L514.0 355.7L514.6 355.2L515.2 357.7L515.8 358.9L516.4 357.6L517.0 354.8L517.6 357.5L518.2 355.8L518.8 357.9L519.4 359.5L520.0 358.0L520.6 354.7L521.2 358.6L521.8 357.6L522.4 359.1L523.0 357.2L523.6 357.0L524.2 353.8L524.8 356.1L525.4 351.3L526.0 348.4L526.6 349.4L527.2 347.7L527.8 346.6L528.4 344.3L529.0 341.6L529.6 339.9L530.2 339.3L530.8 337.5L531.4 336.5L532.0 332.7L532.6 333.8L533.2 332.6L533.8 332.8L534.4 330.7L535.0 332.0L535.6 331.4L536.2 329.1L536.8 330.1L537.4 330.5L538.0 328.5L538.6 326.9L539.2 329.2L539.8 329.6L540.4 329.3L541.0 330.6L541.6 330.0L542.2 332.0L542.8 330.4L543.4 333.7L544.0 332.5" stroke="#0000ff" stroke-width="1.6" fill="none" stroke-dasharray="6.5 3 1.3 3" stroke-linejoin="round"/>
<path clip-path="url(#c2)" d="M67.0 357.6L67.3 357.6L67.6 357.6L67.9 357.6L68.2 357.6L68.5 357.6L68.8 357.6L69.1 357.6L69.4 357.6L69.7 357.6L70.0 357.6L70.3 357.6L70.6 357.6L70.9 357.6L71.2 357.6L71.5 357.6L71.8 357.6L72.1 357.6L72.4 357.6L72.7 357.6L73.0 357.6L73.3 357.6L73.6 357.6L73.9 357.6L74.2 357.6L74.5 357.6L74.8 357.6L75.1 357.6L75.4 357.6L75.7 357.6L76.0 357.6L76.3 357.6L76.6 357.6L76.9 357.6L77.2 357.6L77.5 357.6L77.8 357.6L78.1 357.6L78.4 357.6L78.7 357.6L79.0 357.6L79.3 357.6L79.6 357.6L79.9 357.6L80.2 357.6L80.5 357.6L80.8 357.6L81.1 357.6L81.4 357.6L81.7 357.6L82.0 357.6L82.3 357.6L82.6 357.6L82.9 357.6L83.2 357.6L83.5 357.6L83.8 357.6L84.1 357.6L84.4 357.6L84.7 357.6L85.0 357.6L85.3 357.6L85.6 357.6L85.9 357.6L86.2 357.6L86.5 357.6L86.8 357.6L87.1 357.6L87.4 357.6L87.7 357.6L88.0 357.6L88.3 357.6L88.6 357.6L88.9 357.6L89.2 357.6L89.5 357.6L89.8 357.6L90.1 357.6L90.4 357.6L90.7 357.6L91.0 357.6L91.3 357.6L91.6 357.6L91.9 357.6L92.2 357.6L92.5 357.6L92.8 357.6L93.1 357.6L93.4 357.6L93.7 357.6L94.0 357.6L94.3 357.6L94.6 357.6L94.9 357.6L95.2 357.6L95.5 357.6L95.8 357.6L96.1 357.6L96.4 357.6L96.7 357.6L97.0 357.6L97.3 357.6L97.6 357.6L97.9 357.6L98.2 357.6L98.5 357.6L98.8 357.6L99.1 357.6L99.4 357.6L99.7 357.6L100.0 357.6L100.3 357.6L100.6 357.6L100.9 357.6L101.2 357.6L101.5 357.6L101.8 357.6L102.1 357.6L102.4 357.6L102.7 357.6L103.0 357.6L103.3 357.6L103.6 357.6L103.9 357.6L104.2 357.6L104.5 357.6L104.8 357.6L105.1 357.6L105.4 357.6L105.7 357.6L106.0 357.6L106.3 357.6L106.6 357.6L106.9 357.6L107.2 357.6L107.5 357.6L107.8 357.6L108.1 357.6L108.4 357.6L108.7 357.6L109.0 357.6L109.3 357.6L109.6 357.6L109.9 357.6L110.2 357.6L110.5 357.6L110.8 357.6L111.1 357.6L111.4 357.6L111.7 357.6L112.0 357.6L112.3 357.6L112.6 357.6L112.9 357.6L113.2 357.6L113.5 357.6L113.8 357.6L114.1 357.6L114.4 357.6L114.7 357.6L115.0 357.6L115.3 357.6L115.6 357.6L115.9 357.6L116.2 357.6L116.5 357.6L116.8 357.6L117.1 357.6L117.4 357.6L117.7 357.6L118.0 357.6L118.3 357.6L118.6 357.6L118.9 357.6L119.2 357.6L119.5 357.6L119.8 357.6L120.1 357.6L120.4 357.6L120.7 357.6L121.0 357.6L121.3 357.6L121.6 357.6L121.9 357.6L122.2 357.6L122.5 357.6L122.8 357.6L123.1 357.6L123.4 357.6L123.7 357.6L124.0 357.6L124.3 357.6L124.6 357.6L124.9 357.6L125.2 357.6L125.5 357.6L125.8 357.6L126.1 357.6L126.4 357.6L126.7 357.6L127.0 357.6L127.3 357.6L127.6 357.6L127.9 357.6L128.2 357.6L128.5 357.6L128.8 357.6L129.1 357.6L129.4 357.6L129.7 357.6L130.0 357.6L130.3 357.6L130.6 357.6L130.9 357.6L131.2 357.6L131.5 357.6L131.8 357.6L132.1 357.6L132.4 357.6L132.7 357.6L133.0 357.6L133.3 357.6L133.6 357.6L133.9 357.6L134.2 357.6L134.5 357.6L134.8 357.6L135.1 357.6L135.4 357.6L135.7 357.6L136.0 357.6L136.3 357.6L136.6 357.6L136.9 357.6L137.2 357.6L137.5 357.6L137.8 357.6L138.1 357.6L138.4 357.6L138.7 357.6L139.0 357.6L139.3 357.6L139.6 357.6L139.9 357.6L140.2 357.6L140.5 357.6L140.8 357.6L141.1 357.6L141.4 357.6L141.7 357.6L142.0 357.6L142.3 357.6L142.6 357.6L142.9 357.6L143.2 357.6L143.5 357.6L143.8 357.6L144.1 357.6L144.4 357.6L144.7 357.6L145.0 357.6L145.3 357.6L145.6 357.6L145.9 357.6L146.2 357.6L146.5 357.6L146.8 357.6L147.1 357.6L147.4 357.6L147.7 357.6L148.0 357.6L148.3 357.6L148.6 357.6L148.9 357.6L149.2 357.6L149.5 357.6L149.8 357.6L150.1 357.6L150.4 357.6L150.7 357.6L151.0 357.6L151.3 357.6L151.6 357.6L151.9 357.6L152.2 357.6L152.5 357.6L152.8 357.6L153.1 357.6L153.4 357.6L153.7 357.6L154.0 357.6L154.3 357.6L154.6 357.6L154.9 357.6L155.2 357.6L155.5 357.6L155.8 357.6L156.1 357.6L156.4 357.6L156.7 357.6L157.0 357.6L157.3 357.6L157.6 357.6L157.9 357.6L158.2 357.6L158.5 357.6L158.8 357.6L159.1 357.6L159.4 357.6L159.7 357.6L160.0 357.6L160.3 357.6L160.6 357.6L160.9 357.6L161.2 357.6L161.5 357.6L161.8 357.6L162.1 357.6L162.4 357.6L162.7 357.6L163.0 357.6L163.3 357.6L163.6 357.6L163.9 357.6L164.2 357.6L164.5 357.6L164.8 357.6L165.1 357.6L165.4 357.6L165.7 357.6L166.0 357.6L166.3 357.6L166.6 357.6L166.9 357.6L167.2 357.6L167.5 357.6L167.8 357.6L168.1 357.8L168.4 358.5L168.7 357.6L169.0 359.7L169.3 357.7L169.6 357.7L169.9 356.8L170.2 358.9L170.5 360.5L170.8 361.1L171.1 362.9L171.4 362.9L171.7 359.7L172.0 357.1L172.3 360.3L172.6 359.7L172.9 357.4L173.2 356.2L173.5 356.6L173.8 355.1L174.1 356.0L174.4 358.6L174.7 360.6L175.0 358.8L175.3 357.0L175.6 356.9L175.9 357.7L176.2 361.3L176.5 358.8L176.8 355.2L177.1 359.4L177.4 354.2L177.7 356.9L178.0 358.1L178.3 356.0L178.6 357.4L178.9 360.6L179.2 356.2L179.5 360.3L179.8 360.0L180.1 359.8L180.4 356.6L180.7 360.6L181.0 359.7L181.3 359.9L181.6 358.3L181.9 359.9L182.2 353.9L182.5 357.9L182.8 359.0L183.1 363.1L183.4 353.2L183.7 355.3L184.0 357.7L184.3 358.7L184.6 356.2L184.9 359.9L185.2 358.3L185.5 359.3L185.8 356.4L186.1 359.6L186.4 359.3L186.7 362.6L187.0 360.7L187.3 362.2L187.6 359.1L187.9 355.9L188.2 358.9L188.5 353.1L188.8 353.8L189.1 355.8L189.4 359.3L189.7 359.6L190.0 353.0L190.3 356.2L190.6 360.1L190.9 356.9L191.2 354.5L191.5 358.0L191.8 360.8L192.1 356.2L192.4 356.3L192.7 362.2L193.0 359.7L193.3 355.6L193.6 360.2L193.9 361.4L194.2 358.1L194.5 358.7L194.8 359.8L195.1 359.0L195.4 361.6L195.7 361.3L196.0 360.9L196.3 362.7L196.6 358.7L196.9 357.8L197.2 357.7L197.5 358.9L197.8 357.2L198.1 359.5L198.4 361.5L198.7 362.3L199.0 360.5L199.3 360.1L199.6 358.7L199.9 359.6L200.2 357.2L200.5 356.7L200.8 355.6L201.1 357.0L201.4 358.8L201.7 357.3L202.0 357.3L202.3 361.0L202.6 357.9L202.9 358.8L203.2 357.3L203.5 358.6L203.8 355.4L204.1 358.9L204.4 359.6L204.7 360.2L205.0 355.4L205.3 358.3L205.6 362.3L205.9 361.0L206.2 356.0L206.5 357.2L206.8 356.0L207.1 359.3L207.4 360.1L207.7 357.0L208.0 353.7L208.3 357.0L208.6 352.2L208.9 359.1L209.2 354.8L209.5 355.1L209.8 354.7L210.1 356.8L210.4 356.4L210.7 357.3L211.0 356.3L211.3 356.3L211.6 359.0L211.9 359.7L212.2 358.0L212.5 358.8L212.8 359.9L213.1 357.9L213.4 357.3L213.7 355.2L214.0 356.0L214.3 359.8L214.6 355.0L214.9 353.8L215.2 356.2L215.5 357.2L215.8 358.0L216.1 355.1L216.4 357.7L216.7 356.1L217.0 355.8L217.3 356.7L217.6 355.4L217.9 356.0L218.2 358.5L218.5 354.6L218.8 355.7L219.1 358.0L219.4 356.8L219.7 356.6L220.0 353.7L220.3 353.1L220.6 355.6L220.9 355.5L221.2 352.4L221.5 355.6L221.8 356.4L222.1 358.7L222.4 355.7L222.7 355.2L223.0 353.8L223.3 356.0L223.6 354.9L223.9 360.5L224.2 354.3L224.5 359.0L224.8 355.9L225.1 353.9L225.4 357.4L225.7 357.0L226.0 360.3L226.3 358.5L226.6 356.6L226.9 355.9L227.2 355.4L227.5 356.6L227.8 356.6L228.1 354.3L228.4 354.3L228.7 356.1L229.0 353.3L229.3 354.9L229.6 354.7L229.9 353.0L230.2 357.2L230.5 356.2L230.8 354.7L231.1 352.2L231.4 355.8L231.7 355.5L232.0 356.4L232.3 357.1L232.6 356.3L232.9 361.8L233.2 358.4L233.5 357.0L233.8 357.4L234.1 355.5L234.4 355.3L234.7 355.7L235.0 359.0L235.3 361.0L235.6 361.9L235.9 359.0L236.2 359.2L236.5 354.4L236.8 353.2L237.1 357.2L237.4 359.2L237.7 359.8L238.0 356.8L238.3 354.3L238.6 356.2L238.9 357.1L239.2 355.8L239.5 357.6L239.8 359.8L240.1 356.6L240.4 357.7L240.7 362.2L241.0 358.8L241.3 358.1L241.6 356.1L241.9 358.6L242.2 353.3L242.5 360.0L242.8 356.6L243.1 355.1L243.4 355.0L243.7 355.9L244.0 351.0L244.3 355.7L244.6 356.1L244.9 352.8L245.2 356.5L245.5 358.1L245.8 352.9L246.1 354.9L246.4 357.9L246.7 361.2L247.0 355.4L247.3 358.0L247.6 356.2L247.9 358.0L248.2 358.0L248.5 355.4L248.8 358.8L249.1 363.9L249.4 360.8L249.7 357.2L250.0 357.7L250.3 354.3L250.6 357.0L250.9 357.1L251.2 355.6L251.5 352.7L251.8 360.1L252.1 357.5L252.4 354.3L252.7 358.9L253.0 359.3L253.3 355.2L253.6 360.8L253.9 352.6L254.2 359.1L254.5 354.8L254.8 358.1L255.1 353.0L255.4 357.6L255.7 359.4L256.0 360.4L256.3 357.6L256.6 358.5L256.9 356.0L257.2 356.7L257.5 358.2L257.8 354.6L258.1 358.6L258.4 357.6L258.7 358.7L259.0 360.0L259.3 357.8L259.6 356.2L259.9 359.6L260.2 357.1L260.5 358.0L260.8 358.4L261.1 354.9L261.4 358.9L261.7 355.2L262.0 357.9L262.3 359.8L262.6 359.9L262.9 359.7L263.2 362.7L263.5 358.5L263.8 358.2L264.1 359.8L264.4 354.3L264.7 356.8L265.0 359.6L265.3 358.8L265.6 356.1L265.9 359.0L266.2 359.3L266.5 358.9L266.8 361.0L267.1 355.3L267.4 359.1L267.7 358.0L268.0 357.1L268.3 353.9L268.6 363.1L268.9 352.2L269.2 357.9L269.5 357.6L269.8 361.5L270.1 356.0L270.4 356.9L270.7 358.0L271.0 359.1L271.3 360.3L271.6 360.0L271.9 353.9L272.2 357.3L272.5 360.2L272.8 360.3L273.1 361.4L273.4 357.3L273.7 357.8L274.0 359.1L274.3 360.3L274.6 360.7L274.9 358.2L275.2 360.3L275.5 358.4L275.8 359.4L276.1 354.7L276.4 355.2L276.7 360.8L277.0 356.9L277.3 361.6L277.6 361.3L277.9 355.7L278.2 358.1L278.5 358.8L278.8 356.6L279.1 352.1L279.4 357.8L279.7 356.8L280.0 353.8L280.3 356.3L280.6 355.4L280.9 361.7L281.2 358.4L281.5 355.2L281.8 357.6L282.1 353.5L282.4 358.7L282.7 356.7L283.0 359.6L283.3 357.1L283.6 360.5L283.9 360.9L284.2 354.9L284.5 356.4L284.8 357.8L285.1 357.8L285.4 355.5L285.7 357.1L286.0 356.9L286.3 359.1L286.6 356.5L286.9 357.8L287.2 360.0L287.5 358.1L287.8 355.5L288.1 354.3L288.4 356.6L288.7 353.7L289.0 357.3L289.3 355.3L289.6 351.3L289.9 355.8L290.2 351.4L290.5 353.3L290.8 352.3L291.1 351.6L291.4 344.9L291.7 345.7L292.0 345.6L292.3 351.2L292.6 347.1L292.9 346.0L293.2 348.6L293.5 346.7L293.8 346.9L294.1 346.3L294.4 349.3L294.7 343.7L295.0 346.0L295.3 353.5L295.6 354.1L295.9 352.8L296.2 351.8L296.5 356.3L296.8 354.3L297.1 349.9L297.4 352.9L297.7 354.3L298.0 351.6L298.3 348.8L298.6 352.3L298.9 354.7L299.2 355.4L299.5 352.8L299.8 355.2L300.1 354.7L300.4 356.3L300.7 352.9L301.0 354.8L301.3 357.5L301.6 359.1L301.9 357.3L302.2 359.1L302.5 358.3L302.8 355.8L303.1 361.3L303.4 356.3L303.7 356.2L304.0 358.7L304.3 360.6L304.6 360.3L304.9 358.3L305.2 356.3L305.5 360.8L305.8 359.8L306.1 357.3L306.4 358.4L306.7 363.0L307.0 362.2L307.3 354.8L307.6 358.9L307.9 362.7L308.2 358.2L308.5 354.3L308.8 356.1L309.1 361.3L309.4 356.9L309.7 360.6L310.0 356.1L310.3 360.1L310.6 357.5L310.9 358.5L311.2 358.1L311.5 357.2L311.8 352.4L312.1 360.8L312.4 360.3L312.7 359.7L313.0 361.3L313.3 358.5L313.6 360.8L313.9 356.6L314.2 356.0L314.5 359.5L314.8 355.2L315.1 360.2L315.4 358.3L315.7 358.9L316.0 356.7L316.3 359.1L316.6 360.7L316.9 355.6L317.2 356.3L317.5 359.5L317.8 355.5L318.1 359.3L318.4 355.6L318.7 356.5L319.0 358.6L319.3 358.2L319.6 354.6L319.9 360.8L320.2 356.5L320.5 356.0L320.8 359.2L321.1 357.8L321.4 361.9L321.7 355.4L322.0 353.5L322.3 351.9L322.6 355.4L322.9 357.0L323.2 357.7L323.5 357.8L323.8 359.6L324.1 357.5L324.4 356.5L324.7 364.6L325.0 363.2L325.3 356.5L325.6 357.6L325.9 357.2L326.2 361.9L326.5 360.3L326.8 352.1L327.1 356.9L327.4 355.7L327.7 357.6L328.0 356.4L328.3 358.9L328.6 356.2L328.9 359.9L329.2 356.1L329.5 359.2L329.8 355.0L330.1 358.9L330.4 359.1L330.7 358.3L331.0 356.9L331.3 353.6L331.6 355.3L331.9 353.6L332.2 359.1L332.5 357.4L332.8 357.4L333.1 357.2L333.4 352.6L333.7 353.7L334.0 354.9L334.3 354.4L334.6 353.6L334.9 353.3L335.2 354.8L335.5 360.7L335.8 356.2L336.1 355.4L336.4 355.8L336.7 351.8L337.0 355.7L337.3 355.1L337.6 355.2L337.9 354.3L338.2 359.9L338.5 352.5L338.8 355.7L339.1 354.7L339.4 355.8L339.7 359.2L340.0 359.8L340.3 357.2L340.6 353.5L340.9 358.0L341.2 356.3L341.5 351.6L341.8 357.4L342.1 355.9L342.4 356.4L342.7 358.2L343.0 359.9L343.3 353.5L343.6 357.1L343.9 356.7L344.2 356.3L344.5 355.7L344.8 359.1L345.1 354.3L345.4 355.2L345.7 359.7L346.0 355.2L346.3 357.0L346.6 359.3L346.9 353.2L347.2 351.0L347.5 347.6L347.8 353.8L348.1 353.9L348.4 352.3L348.7 355.5L349.0 357.1L349.3 355.2L349.6 352.5L349.9 351.2L350.2 354.8L350.5 355.3L350.8 358.2L351.1 352.4L351.4 352.8L351.7 349.3L352.0 353.7L352.3 357.2L352.6 358.0L352.9 355.1L353.2 353.0L353.5 356.9L353.8 352.6L354.1 352.6L354.4 361.0L354.7 353.5L355.0 355.4L355.3 355.1L355.6 357.8L355.9 354.0L356.2 355.6L356.5 359.2L356.8 355.5L357.1 355.7L357.4 354.8L357.7 352.8L358.0 351.6L358.3 357.9L358.6 353.3L358.9 353.6L359.2 357.2L359.5 356.2L359.8 353.3L360.1 357.5L360.4 355.8L360.7 354.2L361.0 360.2L361.3 354.9L361.6 355.8L361.9 356.6L362.2 356.4L362.5 356.1L362.8 354.4L363.1 354.6L363.4 356.3L363.7 354.2L364.0 354.4L364.3 356.4L364.6 356.2L364.9 354.3L365.2 353.9L365.5 358.4L365.8 351.1L366.1 355.6L366.4 354.3L366.7 349.4L367.0 349.1L367.3 354.8L367.6 352.4L367.9 349.6L368.2 349.9L368.5 350.5L368.8 346.8L369.1 352.6L369.4 346.4L369.7 351.2L370.0 349.4L370.3 348.7L370.6 351.3L370.9 349.1L371.2 354.0L371.5 354.3L371.8 354.6L372.1 352.4L372.4 348.9L372.7 352.0L373.0 346.4L373.3 355.0L373.6 352.1L373.9 350.9L374.2 344.2L374.5 352.1L374.8 348.7L375.1 349.2L375.4 346.7L375.7 341.8L376.0 347.2L376.3 349.0L376.6 346.9L376.9 350.3L377.2 351.4L377.5 348.0L377.8 351.6L378.1 348.4L378.4 349.4L378.7 349.4L379.0 350.6L379.3 354.8L379.6 351.9L379.9 351.6L380.2 354.4L380.5 350.7L380.8 351.6L381.1 356.3L381.4 357.4L381.7 358.7L382.0 353.6L382.3 356.8L382.6 356.9L382.9 359.4L383.2 358.3L383.5 355.7L383.8 353.1L384.1 357.3L384.4 354.4L384.7 361.5L385.0 358.7L385.3 363.0L385.6 361.0L385.9 357.1L386.2 356.5L386.5 351.9L386.8 357.9L387.1 361.1L387.4 354.8L387.7 356.0L388.0 354.5L388.3 354.4L388.6 357.4L388.9 359.2L389.2 354.3L389.5 356.9L389.8 350.2L390.1 354.2L390.4 356.7L390.7 360.0L391.0 356.7L391.3 361.7L391.6 357.0L391.9 356.7L392.2 356.1L392.5 356.8L392.8 353.5L393.1 356.5L393.4 358.1L393.7 360.8L394.0 359.6L394.3 357.7L394.6 361.9L394.9 354.7L395.2 357.6L395.5 359.7L395.8 358.5L396.1 358.9L396.4 356.2L396.7 355.3L397.0 358.3L397.3 360.9L397.6 357.1L397.9 358.1L398.2 358.9L398.5 354.4L398.8 359.2L399.1 357.2L399.4 355.2L399.7 359.2L400.0 359.6L400.3 356.3L400.6 359.5L400.9 356.9L401.2 360.0L401.5 357.2L401.8 357.6L402.1 358.3L402.4 355.5L402.7 359.2L403.0 357.2L403.3 361.0L403.6 357.6L403.9 355.8L404.2 354.5L404.5 355.5L404.8 356.0L405.1 353.5L405.4 355.8L405.7 358.0L406.0 355.0L406.3 357.8L406.6 357.7L406.9 356.3L407.2 354.3L407.5 357.6L407.8 356.8L408.1 356.0L408.4 355.9L408.7 361.1L409.0 356.9L409.3 356.3L409.6 355.4L409.9 357.7L410.2 358.6L410.5 356.6L410.8 357.3L411.1 353.7L411.4 356.7L411.7 356.7L412.0 357.1L412.3 354.9L412.6 353.9L412.9 354.9L413.2 354.0L413.5 349.6L413.8 352.4L414.1 357.3L414.4 352.0L414.7 352.4L415.0 351.9L415.3 351.2L415.6 350.9L415.9 349.9L416.2 351.8L416.5 351.0L416.8 350.4L417.1 352.8L417.4 350.1L417.7 349.8L418.0 349.7L418.3 347.6L418.6 354.4L418.9 353.5L419.2 351.0L419.5 356.0L419.8 355.1L420.1 354.0L420.4 357.9L420.7 353.8L421.0 358.1L421.3 356.6L421.6 358.8L421.9 357.6L422.2 358.5L422.5 357.6L422.8 358.1L423.1 358.2L423.4 356.4L423.7 355.8L424.0 359.5L424.3 356.0L424.6 356.0L424.9 358.2L425.2 358.2L425.5 365.3L425.8 360.3L426.1 362.6L426.4 365.4L426.7 363.2L427.0 364.7L427.3 359.6L427.6 361.0L427.9 364.6L428.2 361.5L428.5 363.1L428.8 355.9L429.1 357.4L429.4 357.3L429.7 360.3L430.0 358.4L430.3 361.9L430.6 363.4L430.9 365.8L431.2 356.2L431.5 357.1L431.8 360.8L432.1 361.8L432.4 362.4L432.7 362.3L433.0 358.8L433.3 361.4L433.6 357.9L433.9 363.1L434.2 356.5L434.5 363.3L434.8 357.2L435.1 359.3L435.4 357.7L435.7 359.1L436.0 361.4L436.3 358.9L436.6 360.3L436.9 360.9L437.2 357.0L437.5 354.3L437.8 356.3L438.1 357.6L438.4 358.8L438.7 349.8L439.0 359.3L439.3 357.3L439.6 357.9L439.9 362.2L440.2 361.0L440.5 356.5L440.8 358.1L441.1 359.9L441.4 361.8L441.7 361.4L442.0 365.4L442.3 363.4L442.6 365.7L442.9 358.3L443.2 362.2L443.5 365.2L443.8 357.0L444.1 361.2L444.4 360.4L444.7 359.7L445.0 359.6L445.3 356.1L445.6 357.3L445.9 355.2L446.2 360.6L446.5 362.1L446.8 364.8L447.1 357.2L447.4 360.1L447.7 360.1L448.0 358.2L448.3 362.2L448.6 360.4L448.9 359.0L449.2 362.6L449.5 360.0L449.8 364.1L450.1 356.7L450.4 359.4L450.7 360.8L451.0 363.7L451.3 358.7L451.6 365.7L451.9 356.4L452.2 360.9L452.5 361.4L452.8 362.5L453.1 358.9L453.4 362.9L453.7 357.9L454.0 360.1L454.3 358.2L454.6 359.6L454.9 353.9L455.2 359.0L455.5 359.1L455.8 357.4L456.1 361.0L456.4 354.1L456.7 360.8L457.0 359.3L457.3 361.7L457.6 361.5L457.9 356.4L458.2 358.1L458.5 355.1L458.8 349.1L459.1 355.6L459.4 356.8L459.7 353.3L460.0 357.0L460.3 353.1L460.6 354.0L460.9 351.1L461.2 350.8L461.5 350.6L461.8 352.9L462.1 353.6L462.4 349.9L462.7 355.1L463.0 354.0L463.3 353.5L463.6 351.6L463.9 348.6L464.2 354.2L464.5 350.8L464.8 350.1L465.1 351.3L465.4 351.2L465.7 352.3L466.0 355.0L466.3 355.6L466.6 354.0L466.9 356.3L467.2 360.2L467.5 354.5L467.8 358.4L468.1 351.9L468.4 355.1L468.7 351.4L469.0 353.6L469.3 355.6L469.6 357.3L469.9 356.7L470.2 358.4L470.5 357.4L470.8 359.8L471.1 352.0L471.4 359.8L471.7 354.8L472.0 350.8L472.3 354.0L472.6 357.3L472.9 355.5L473.2 351.2L473.5 361.3L473.8 357.1L474.1 359.7L474.4 356.2L474.7 356.0L475.0 357.8L475.3 360.1L475.6 354.4L475.9 354.8L476.2 354.6L476.5 351.8L476.8 360.1L477.1 357.2L477.4 353.8L477.7 354.0L478.0 352.1L478.3 356.3L478.6 355.2L478.9 356.1L479.2 360.0L479.5 360.4L479.8 356.6L480.1 355.4L480.4 354.2L480.7 356.6L481.0 354.1L481.3 354.3L481.6 360.1L481.9 359.4L482.2 355.9L482.5 357.1L482.8 359.1L483.1 355.8L483.4 358.1L483.7 355.1L484.0 357.3L484.3 350.9L484.6 353.9L484.9 359.0L485.2 359.0L485.5 353.3L485.8 359.5L486.1 358.1L486.4 360.0L486.7 358.3L487.0 363.3L487.3 357.0L487.6 360.7L487.9 360.7L488.2 354.7L488.5 358.0L488.8 363.8L489.1 357.6L489.4 359.8L489.7 361.0L490.0 363.9L490.3 361.4L490.6 357.1L490.9 358.1L491.2 357.9L491.5 367.1L491.8 359.9L492.1 361.1L492.4 362.8L492.7 361.9L493.0 361.3L493.3 363.6L493.6 361.5L493.9 358.2L494.2 360.7L494.5 362.6L494.8 361.0L495.1 361.1L495.4 360.6L495.7 357.4L496.0 360.1L496.3 355.2L496.6 359.0L496.9 361.2L497.2 355.3L497.5 358.7L497.8 357.1L498.1 360.2L498.4 362.8L498.7 359.4L499.0 359.0L499.3 360.0L499.6 358.6L499.9 361.1L500.2 358.9L500.5 355.3L500.8 355.7L501.1 354.6L501.4 357.7L501.7 352.2L502.0 356.3L502.3 354.2L502.6 348.7L502.9 354.6L503.2 356.6L503.5 354.6L503.8 349.9L504.1 352.3L504.4 358.6L504.7 362.2L505.0 354.6L505.3 356.6L505.6 355.5L505.9 358.9L506.2 359.3L506.5 355.1L506.8 356.6L507.1 354.4L507.4 353.8L507.7 356.1L508.0 351.0L508.3 353.1L508.6 355.3L508.9 357.6L509.2 352.6L509.5 357.7L509.8 358.1L510.1 358.6L510.4 357.9L510.7 360.1L511.0 361.9L511.3 356.7L511.6 356.6L511.9 356.5L512.2 354.8L512.5 357.8L512.8 361.4L513.1 361.0L513.4 357.7L513.7 355.2L514.0 359.8L514.3 359.4L514.6 359.7L514.9 359.1L515.2 361.3L515.5 360.4L515.8 355.5L516.1 349.6L516.4 355.5L516.7 356.6L517.0 355.6L517.3 356.6L517.6 358.2L517.9 356.7L518.2 356.7L518.5 358.9L518.8 357.2L519.1 357.0L519.4 358.1L519.7 356.4L520.0 357.9L520.3 357.2L520.6 359.7L520.9 355.2L521.2 357.9L521.5 361.5L521.8 363.9L522.1 363.1L522.4 357.9L522.7 355.0L523.0 360.0L523.3 359.6L523.6 360.8L523.9 360.4L524.2 357.9L524.5 360.0L524.8 358.2L525.1 356.7L525.4 353.4L525.7 357.2L526.0 359.3L526.3 355.0L526.6 358.3L526.9 353.7L527.2 360.6L527.5 359.0L527.8 357.5L528.1 360.4L528.4 360.2L528.7 357.1L529.0 362.3L529.3 359.5L529.6 364.5L529.9 363.5L530.2 359.0L530.5 359.6L530.8 359.2L531.1 359.1L531.4 357.8L531.7 365.3L532.0 361.1L532.3 357.6L532.6 362.6L532.9 362.5L533.2 365.6L533.5 360.7L533.8 358.3L534.1 360.3L534.4 361.2L534.7 356.4L535.0 358.2L535.3 357.3L535.6 359.3L535.9 358.7L536.2 361.6L536.5 358.5L536.8 357.8L537.1 357.2L537.4 361.8L537.7 366.5L538.0 362.9L538.3 363.4L538.6 360.4L538.9 360.5L539.2 360.5L539.5 364.9L539.8 365.9L540.1 365.0L540.4 361.6L540.7 359.3L541.0 359.0L541.3 360.0L541.6 359.9L541.9 360.3L542.2 358.9L542.5 358.9L542.8 351.9L543.1 359.8L543.4 364.1L543.7 359.1L544.0 361.6" stroke="#ff0000" stroke-width="2.5" fill="none" stroke-dasharray="6.6 2 2.8 2.1" stroke-linejoin="round"/>
<path clip-path="url(#c2)" d="M67.0 355.0L67.5 354.5L68.0 354.0L68.5 353.5L69.0 353.0L69.5 352.4L70.0 351.7L70.5 351.0L71.0 350.3L71.5 349.6L72.0 349.1L72.5 348.9L73.0 348.8L73.5 349.1L74.0 349.7L74.5 350.3L75.0 351.0L75.5 351.8L76.0 352.8L76.5 354.0L77.0 355.0L77.5 355.7L78.0 356.0L78.5 355.9L79.0 355.5L79.5 355.0L80.0 354.3L80.5 353.0L81.0 349.9L81.5 346.0L82.0 343.0L82.5 342.0L83.0 343.3L83.5 346.0L84.0 349.5L84.5 357.1L85.0 357.9L85.5 358.1L86.0 358.2L86.5 358.3L87.0 358.3L87.5 357.0L88.0 354.8L88.5 352.6L89.0 351.7L89.5 352.1L90.0 353.0L90.5 354.3L91.0 355.6L91.5 356.5L92.0 356.9L92.5 356.8L93.0 356.5L93.5 356.1L94.0 355.8L94.5 355.5L95.0 355.4L95.5 355.6L96.0 356.2L96.5 356.8L97.0 357.5L97.5 358.1L98.0 358.3L98.5 357.8L99.0 356.6L99.5 355.0L100.0 353.2L100.5 351.5L101.0 350.2L101.5 349.5L102.0 349.9L102.5 351.2L103.0 352.9L103.5 354.6L104.0 355.8L104.5 356.8L105.0 357.7L105.5 358.6L106.0 359.8L106.5 361.3L107.0 363.1L107.5 365.1L108.0 367.2L108.5 369.8L109.0 372.8L109.5 375.9L110.0 378.8L110.5 381.0L111.0 382.9L111.5 384.6L112.0 385.8L112.5 385.9L113.0 384.5L113.5 382.1L114.0 379.2L114.5 375.8L115.0 370.7L115.5 365.2L116.0 359.9L116.5 354.4L117.0 349.5L117.5 344.7L118.0 340.2L118.5 337.8L119.0 337.7L119.5 337.9L120.0 338.3L120.5 338.7L121.0 339.4L121.5 341.7L122.0 344.6L122.5 346.7L123.0 348.4L123.5 349.9L124.0 351.0L124.5 351.8L125.0 352.5L125.5 353.2L126.0 353.7L126.5 354.3L127.0 354.7L127.5 355.0L128.0 355.3L128.5 355.5L129.0 355.6L129.5 355.8L130.0 355.9L130.5 355.9L131.0 356.0L131.5 356.0L132.0 356.0L132.5 355.9L133.0 355.8L133.5 355.6L134.0 355.5L134.5 355.2L135.0 354.8L135.5 354.2L136.0 353.4L136.5 352.5L137.0 351.4L137.5 350.1L138.0 348.0L138.5 345.4L139.0 342.5L139.5 339.9L140.0 337.7L140.5 335.8L141.0 333.9L141.5 332.2L142.0 331.2L142.5 331.1L143.0 331.7L143.5 332.9L144.0 334.5L144.5 336.2L145.0 338.9L145.5 342.3L146.0 345.0L146.5 346.4L147.0 347.4L147.5 348.8L148.0 351.7L148.5 355.2L149.0 356.9L149.5 356.9L150.0 356.9L150.5 356.9L151.0 356.9L151.5 356.4L152.0 354.0L152.5 350.8L153.0 348.1L153.5 347.3L154.0 347.5L154.5 347.8L155.0 348.3L155.5 348.8L156.0 349.3L156.5 349.6L157.0 349.9L157.5 350.2L158.0 350.5L158.5 350.9L159.0 351.9L159.5 354.1L160.0 356.7L160.5 358.9L161.0 360.2L161.5 361.2L162.0 362.0L162.5 362.6L163.0 362.8L163.5 362.0L164.0 360.1L164.5 357.6L165.0 355.0L165.5 352.4L166.0 349.2L166.5 345.9L167.0 343.2L167.5 341.8L168.0 341.1L168.5 340.6L169.0 340.2L169.5 340.0L170.0 340.2L170.5 341.1L171.0 342.4L171.5 344.0L172.0 345.9L172.5 350.0L173.0 354.9L173.5 359.2L174.0 361.0L174.5 361.0L175.0 360.9L175.5 360.8L176.0 360.7L176.5 360.6L177.0 360.4L177.5 360.2L178.0 360.1L178.5 359.9L179.0 359.7L179.5 359.5L180.0 359.2L180.5 358.9L181.0 358.6L181.5 358.2L182.0 357.9L182.5 357.6L183.0 357.3L183.5 357.1L184.0 356.9L184.5 356.8L185.0 356.9L185.5 357.3L186.0 358.0L186.5 358.8L187.0 359.8L187.5 360.8L188.0 361.9L188.5 363.4L189.0 365.1L189.5 366.7L190.0 368.0L190.5 368.6L191.0 368.5L191.5 368.1L192.0 367.5L192.5 366.8L193.0 366.2L193.5 365.8L194.0 365.5L194.5 365.2L195.0 365.0L195.5 364.8L196.0 364.6L196.5 364.4L197.0 364.3L197.5 364.2L198.0 364.2L198.5 364.3L199.0 364.6L199.5 365.0L200.0 365.5L200.5 365.9L201.0 366.4L201.5 366.8L202.0 367.0L202.5 367.1L203.0 367.0L203.5 366.9L204.0 366.7L204.5 366.5L205.0 366.2L205.5 365.8L206.0 365.5L206.5 365.1L207.0 364.7L207.5 364.3L208.0 363.7L208.5 363.0L209.0 362.2L209.5 361.4L210.0 360.6L210.5 359.8L211.0 359.0L211.5 358.2L212.0 357.6L212.5 357.0L213.0 356.5L213.5 356.0L214.0 355.5L214.5 355.1L215.0 354.8L215.5 354.6L216.0 354.7L216.5 355.2L217.0 356.1L217.5 357.3L218.0 358.5L218.5 359.6L219.0 360.8L219.5 362.3L220.0 363.7L220.5 364.7L221.0 364.9L221.5 364.4L222.0 363.6L222.5 362.7L223.0 361.6L223.5 360.7L224.0 360.1L224.5 359.8L225.0 359.9L225.5 360.2L226.0 360.6L226.5 361.1L227.0 361.5L227.5 362.0L228.0 362.4L228.5 362.6L229.0 362.7L229.5 362.5L230.0 362.2L230.5 361.6L231.0 361.0L231.5 360.3L232.0 359.5L232.5 358.8L233.0 358.1L233.5 357.5L234.0 357.1L234.5 356.8L235.0 356.8L235.5 356.9L236.0 357.0L236.5 357.1L237.0 357.3L237.5 357.5L238.0 357.8L238.5 358.0L239.0 358.2L239.5 358.4L240.0 358.7L240.5 359.1L241.0 359.5L241.5 359.8L242.0 360.2L242.5 360.5L243.0 360.8L243.5 360.9L244.0 361.0L244.5 360.9L245.0 360.8L245.5 360.5L246.0 360.3L246.5 359.9L247.0 359.6L247.5 359.4L248.0 359.1L248.5 359.0L249.0 358.9L249.5 358.9L250.0 359.0L250.5 359.1L251.0 359.3L251.5 359.5L252.0 359.7L252.5 359.9L253.0 360.2L253.5 360.5L254.0 360.8L254.5 361.1L255.0 361.3L255.5 361.6L256.0 361.9L256.5 362.2L257.0 362.5L257.5 362.9L258.0 363.3L258.5 363.7L259.0 364.1L259.5 364.5L260.0 364.9L260.5 365.2L261.0 365.5L261.5 365.7L262.0 365.9L262.5 366.0L263.0 366.1L263.5 366.2L264.0 366.2L264.5 366.3L265.0 366.3L265.5 366.4L266.0 366.4L266.5 366.5L267.0 366.6L267.5 366.7L268.0 366.9L268.5 367.5L269.0 368.7L269.5 370.3L270.0 371.9L270.5 373.8L271.0 376.0L271.5 378.2L272.0 379.8L272.5 381.0L273.0 382.2L273.5 383.2L274.0 384.0L274.5 384.6L275.0 384.8L275.5 384.8L276.0 384.7L276.5 384.7L277.0 384.6L277.5 384.5L278.0 384.4L278.5 384.2L279.0 384.1L279.5 383.9L280.0 383.8L280.5 383.6L281.0 383.5L281.5 383.2L282.0 383.0L282.5 382.7L283.0 382.5L283.5 382.2L284.0 381.9L284.5 381.6L285.0 381.3L285.5 381.1L286.0 380.8L286.5 380.6L287.0 380.3L287.5 380.1L288.0 379.8L288.5 379.6L289.0 379.3L289.5 379.1L290.0 378.9L290.5 378.6L291.0 378.3L291.5 378.1L292.0 377.8L292.5 377.5L293.0 377.1L293.5 376.7L294.0 376.3L294.5 375.9L295.0 375.4L295.5 375.0L296.0 374.7L296.5 374.4L297.0 374.1L297.5 374.0L298.0 373.9L298.5 374.4L299.0 375.3L299.5 376.3L300.0 376.8L300.5 376.7L301.0 376.6L301.5 376.3L302.0 375.9L302.5 375.5L303.0 375.0L303.5 374.5L304.0 373.9L304.5 373.0L305.0 371.6L305.5 369.8L306.0 367.9L306.5 366.0L307.0 364.2L307.5 362.8L308.0 361.9L308.5 361.3L309.0 360.9L309.5 360.4L310.0 360.1L310.5 359.7L311.0 359.4L311.5 359.1L312.0 358.8L312.5 358.6L313.0 358.4L313.5 358.1L314.0 357.9L314.5 357.7L315.0 357.5L315.5 357.1L316.0 356.7L316.5 356.0L317.0 355.1L317.5 354.0L318.0 352.8L318.5 351.6L319.0 350.4L319.5 349.1L320.0 347.8L320.5 346.3L321.0 344.9L321.5 343.6L322.0 342.4L322.5 341.4L323.0 340.3L323.5 339.3L324.0 338.4L324.5 337.4L325.0 336.5L325.5 335.5L326.0 334.5L326.5 333.5L327.0 332.4L327.5 331.4L328.0 330.3L328.5 329.3L329.0 328.3L329.5 327.4L330.0 326.5L330.5 325.6L331.0 324.6L331.5 323.6L332.0 322.8L332.5 322.1L333.0 321.6L333.5 321.4L334.0 321.5L334.5 321.6L335.0 321.9L335.5 322.2L336.0 322.5L336.5 322.8L337.0 323.1L337.5 323.3L338.0 323.5L338.5 323.5L339.0 323.4L339.5 323.1L340.0 322.7L340.5 322.3L341.0 321.8L341.5 321.2L342.0 320.8L342.5 320.4L343.0 320.1L343.5 319.9L344.0 320.0L344.5 320.7L345.0 321.8L345.5 323.2L346.0 324.6L346.5 325.8L347.0 326.8L347.5 327.5L348.0 328.2L348.5 328.9L349.0 329.5L349.5 330.1L350.0 330.7L350.5 331.3L351.0 331.9L351.5 332.5L352.0 333.1L352.5 333.8L353.0 334.4L353.5 335.0L354.0 335.6L354.5 336.2L355.0 336.7L355.5 337.3L356.0 337.8L356.5 338.3L357.0 338.7L357.5 339.1L358.0 339.5L358.5 339.9L359.0 340.2L359.5 340.6L360.0 341.0L360.5 341.4L361.0 341.8L361.5 342.4L362.0 343.1L362.5 344.1L363.0 345.3L363.5 346.7L364.0 348.0L364.5 349.2L365.0 350.1L365.5 350.7L366.0 350.9L366.5 350.4L367.0 349.4L367.5 348.1L368.0 346.5L368.5 344.9L369.0 343.5L369.5 342.2L370.0 340.9L370.5 339.6L371.0 338.2L371.5 336.6L372.0 334.8L372.5 332.5L373.0 329.4L373.5 325.9L374.0 322.3L374.5 319.0L375.0 315.8L375.5 312.7L376.0 309.8L376.5 307.2L377.0 304.8L377.5 302.6L378.0 300.7L378.5 299.2L379.0 298.1L379.5 297.0L380.0 296.1L380.5 295.3L381.0 294.7L381.5 294.2L382.0 293.8L382.5 293.4L383.0 293.1L383.5 292.8L384.0 292.5L384.5 292.3L385.0 292.1L385.5 292.0L386.0 292.0L386.5 292.1L387.0 292.5L387.5 293.2L388.0 294.0L388.5 294.9L389.0 296.0L389.5 297.2L390.0 298.4L390.5 299.6L391.0 300.8L391.5 302.1L392.0 303.6L392.5 305.3L393.0 306.8L393.5 308.2L394.0 309.6L394.5 310.9L395.0 312.2L395.5 313.4L396.0 314.5L396.5 315.5L397.0 316.4L397.5 317.2L398.0 317.8L398.5 318.2L399.0 318.6L399.5 318.9L400.0 319.4L400.5 320.0L401.0 321.0L401.5 322.7L402.0 324.9L402.5 327.4L403.0 329.7L403.5 332.2L404.0 334.9L404.5 337.6L405.0 340.4L405.5 343.6L406.0 347.1L406.5 350.2L407.0 352.0L407.5 352.8L408.0 353.5L408.5 354.1L409.0 354.6L409.5 354.9L410.0 355.1L410.5 355.1L411.0 354.9L411.5 354.5L412.0 354.0L412.5 353.3L413.0 352.5L413.5 351.5L414.0 349.1L414.5 345.9L415.0 342.6L415.5 340.0L416.0 337.8L416.5 335.8L417.0 334.0L417.5 332.3L418.0 330.7L418.5 329.0L419.0 327.5L419.5 326.7L420.0 326.9L420.5 328.3L421.0 330.4L421.5 332.8L422.0 334.8L422.5 337.0L423.0 339.3L423.5 341.4L424.0 342.7L424.5 343.8L425.0 344.7L425.5 345.4L426.0 345.6L426.5 344.6L427.0 342.2L427.5 339.2L428.0 336.4L428.5 334.5L429.0 332.8L429.5 331.2L430.0 329.9L430.5 329.3L431.0 329.3L431.5 329.4L432.0 329.5L432.5 329.7L433.0 330.0L433.5 330.2L434.0 330.6L434.5 330.9L435.0 331.3L435.5 331.7L436.0 332.3L436.5 333.2L437.0 334.3L437.5 335.5L438.0 336.7L438.5 337.8L439.0 338.9L439.5 340.1L440.0 341.3L440.5 342.6L441.0 343.9L441.5 344.9L442.0 345.5L442.5 345.8L443.0 345.3L443.5 343.9L444.0 342.0L444.5 339.7L445.0 337.5L445.5 335.5L446.0 334.0L446.5 332.9L447.0 331.7L447.5 330.7L448.0 329.7L448.5 328.9L449.0 328.4L449.5 328.1L450.0 328.1L450.5 328.3L451.0 328.4L451.5 328.7L452.0 329.0L452.5 329.3L453.0 329.6L453.5 329.9L454.0 330.1L454.5 330.3L455.0 330.5L455.5 330.5L456.0 330.4L456.5 330.2L457.0 329.8L457.5 329.3L458.0 328.7L458.5 327.9L459.0 327.1L459.5 326.1L460.0 325.0L460.5 323.6L461.0 320.9L461.5 317.3L462.0 313.4L462.5 309.8L463.0 306.6L463.5 303.1L464.0 299.7L464.5 296.8L465.0 295.0L465.5 293.8L466.0 292.7L466.5 291.7L467.0 290.8L467.5 290.0L468.0 289.3L468.5 288.7L469.0 288.3L469.5 288.1L470.0 288.0L470.5 288.1L471.0 288.3L471.5 288.7L472.0 289.2L472.5 289.7L473.0 290.3L473.5 291.0L474.0 291.7L474.5 292.3L475.0 293.0L475.5 293.7L476.0 294.4L476.5 295.2L477.0 296.1L477.5 297.0L478.0 297.9L478.5 298.8L479.0 299.7L479.5 300.7L480.0 302.0L480.5 303.3L481.0 304.6L481.5 305.6L482.0 306.4L482.5 306.8L483.0 306.6L483.5 305.8L484.0 304.6L484.5 303.3L485.0 302.0L485.5 300.6L486.0 299.0L486.5 297.4L487.0 295.9L487.5 294.8L488.0 293.8L488.5 292.9L489.0 292.0L489.5 291.2L490.0 290.6L490.5 290.1L491.0 290.0L491.5 290.2L492.0 290.7L492.5 291.4L493.0 292.4L493.5 293.5L494.0 294.8L494.5 296.2L495.0 297.7L495.5 299.1L496.0 300.8L496.5 303.3L497.0 306.1L497.5 308.3L498.0 309.2L498.5 309.0L499.0 308.5L499.5 307.9L500.0 307.0L500.5 306.2L501.0 305.3L501.5 304.6L502.0 304.0L502.5 303.3L503.0 302.7L503.5 302.0L504.0 301.5L504.5 301.1L505.0 301.0L505.5 301.5L506.0 302.9L506.5 304.9L507.0 307.1L507.5 309.2L508.0 311.4L508.5 314.0L509.0 316.7L509.5 319.4L510.0 322.0L510.5 324.7L511.0 327.3L511.5 329.8L512.0 332.0L512.5 334.0L513.0 336.0L513.5 337.9L514.0 339.3L514.5 340.0L515.0 337.5L515.5 330.7L516.0 324.0L516.5 316.5L517.0 309.0L517.5 301.1L518.0 295.0L518.5 291.7L519.0 289.0L519.5 286.9L520.0 285.0L520.5 283.5L521.0 282.0L521.5 280.5L522.0 279.0L522.5 277.6L523.0 276.3L523.5 275.2L524.0 274.3L524.5 273.7L525.0 273.5L525.5 273.6L526.0 273.8L526.5 274.2L527.0 274.7L527.5 275.3L528.0 276.0L528.5 278.0L529.0 281.9L529.5 287.0L530.0 292.3L530.5 297.1L531.0 300.6L531.5 302.0L532.0 300.9L532.5 298.2L533.0 294.6L533.5 291.0L534.0 288.0L534.5 285.5L535.0 282.8L535.5 280.2L536.0 278.1L536.5 276.6L537.0 276.0L537.5 276.3L538.0 277.2L538.5 278.5L539.0 280.0L539.5 283.6L540.0 289.5L540.5 295.1L541.0 298.0L541.5 298.6L542.0 299.1L542.5 299.5L543.0 299.8L543.5 299.9L544.0 300.0" stroke="#00ff00" stroke-width="1.8" fill="none" stroke-dasharray="8.5 5" stroke-linejoin="round"/>
<path d="M66.9 16.5H543.1V132.0H66.9ZM135.0 132.0v-5M135.0 16.5v5M203.0 132.0v-5M203.0 16.5v5M271.0 132.0v-5M271.0 16.5v5M339.0 132.0v-5M339.0 16.5v5M407.0 132.0v-5M407.0 16.5v5M475.0 132.0v-5M475.0 16.5v5M66.9 74.2h5M543.1 74.2h-5" stroke="#404040" stroke-width="1.3" fill="none"/>
<path d="M66.9 142.3H543.1V259.0H66.9ZM135.0 259.0v-5M135.0 142.3v5M203.0 259.0v-5M203.0 142.3v5M271.0 259.0v-5M271.0 142.3v5M339.0 259.0v-5M339.0 142.3v5M407.0 259.0v-5M407.0 142.3v5M475.0 259.0v-5M475.0 142.3v5M66.9 152.0h5M543.1 152.0h-5M66.9 191.7h5M543.1 191.7h-5M66.9 231.3h5M543.1 231.3h-5" stroke="#404040" stroke-width="1.3" fill="none"/>
<path d="M66.9 270.6H543.1V386.5H66.9ZM135.2 386.5v-5M135.2 270.6v5M203.4 386.5v-5M203.4 270.6v5M271.5 386.5v-5M271.5 270.6v5M339.7 386.5v-5M339.7 270.6v5M407.9 386.5v-5M407.9 270.6v5M476.1 386.5v-5M476.1 270.6v5M66.9 314.1h5M543.1 314.1h-5M66.9 357.5h5M543.1 357.5h-5" stroke="#404040" stroke-width="1.3" fill="none"/>
<text class="tl" x="60" y="23.5" text-anchor="end">1</text>
<text class="tl" x="60" y="81.2" text-anchor="end">0</text>
<text class="tl" x="60" y="139.0" text-anchor="end">-1</text>
<text class="tl" x="60" y="159.0" text-anchor="end">0.2</text>
<text class="tl" x="60" y="198.7" text-anchor="end">0</text>
<text class="tl" x="60" y="238.3" text-anchor="end">-0.2</text>
<text class="tl" x="60" y="277.6" text-anchor="end">0.4</text>
<text class="tl" x="60" y="321.1" text-anchor="end">0.2</text>
<text class="tl" x="60" y="364.5" text-anchor="end">0</text>
<text class="tl" x="67.0" y="411" text-anchor="middle">0</text>
<text class="tl" x="135.2" y="411" text-anchor="middle">2</text>
<text class="tl" x="203.4" y="411" text-anchor="middle">4</text>
<text class="tl" x="271.5" y="411" text-anchor="middle">6</text>
<text class="tl" x="339.7" y="411" text-anchor="middle">8</text>
<text class="tl" x="407.9" y="411" text-anchor="middle">10</text>
<text class="tl" x="476.1" y="411" text-anchor="middle">12</text>
<text class="sf" x="306.2" y="434.4" font-size="18" text-anchor="middle">Time(s)</text>
<text class="sf" font-style="italic" transform="translate(34.3,88.5) rotate(-90)"><tspan x="-29.44" y="0" font-size="18.5">p</tspan><tspan x="-19.88" y="1.8" font-size="12.5">e</tspan><tspan x="-14.90" y="1.8" font-size="12.5">r</tspan><tspan x="-9.80" y="1.8" font-size="12.5">r</tspan><tspan x="-0.65" y="0" font-size="18.5">(</tspan><tspan x="5.66" y="0" font-size="18.5">r</tspan><tspan x="14.45" y="0" font-size="18.5">a</tspan><tspan x="24.45" y="0" font-size="18.5">d</tspan><tspan x="35.83" y="0" font-size="18.5">/</tspan><tspan x="43.87" y="0" font-size="18.5">s</tspan><tspan x="54.08" y="0" font-size="18.5">)</tspan></text>
<text class="sf" font-style="italic" transform="translate(20.0,215.3) rotate(-90)"><tspan x="-31.10" y="0" font-size="18.5">q</tspan><tspan x="-19.88" y="1.8" font-size="12.5">e</tspan><tspan x="-14.90" y="1.8" font-size="12.5">r</tspan><tspan x="-9.80" y="1.8" font-size="12.5">r</tspan><tspan x="-0.65" y="0" font-size="18.5">(</tspan><tspan x="5.66" y="0" font-size="18.5">r</tspan><tspan x="14.45" y="0" font-size="18.5">a</tspan><tspan x="24.45" y="0" font-size="18.5">d</tspan><tspan x="35.83" y="0" font-size="18.5">/</tspan><tspan x="43.87" y="0" font-size="18.5">s</tspan><tspan x="54.08" y="0" font-size="18.5">)</tspan></text>
<text class="sf" font-style="italic" transform="translate(26.0,342.8) rotate(-90)"><tspan x="-31.24" y="0" font-size="18.5">r</tspan><tspan x="-19.88" y="1.8" font-size="12.5">e</tspan><tspan x="-14.90" y="1.8" font-size="12.5">r</tspan><tspan x="-9.80" y="1.8" font-size="12.5">r</tspan><tspan x="-0.65" y="0" font-size="18.5">(</tspan><tspan x="5.66" y="0" font-size="18.5">r</tspan><tspan x="14.45" y="0" font-size="18.5">a</tspan><tspan x="24.45" y="0" font-size="18.5">d</tspan><tspan x="35.83" y="0" font-size="18.5">/</tspan><tspan x="43.87" y="0" font-size="18.5">s</tspan><tspan x="54.08" y="0" font-size="18.5">)</tspan></text>
<text class="an" x="212" y="43">Wind Gust</text>
<path d="M206.4 47.3L171.7 75.7" stroke="#000" stroke-width="1.3"/>
<path d="M171.7 75.7L178.9 63L179.8 69.5L187 71.1Z" fill="#000"/>
<text class="an" x="205.5" y="158.5">Wind Gust</text>
<path d="M198.9 162.3L165.2 190.2" stroke="#000" stroke-width="1.3"/>
<path d="M165.2 190.2L172.3 177.4L173.1 183.9L180 185.6Z" fill="#000"/>
<text class="an" x="211" y="322">Wind Gust</text>
<path d="M204.1 326.1L169.7 354.7" stroke="#000" stroke-width="1.3"/>
<path d="M169.7 354.7L177.9 341.4L178.2 348.1L185 349.6Z" fill="#000"/>
<rect x="155.3" y="276.8" width="377" height="21.8" fill="#fff" stroke="#555" stroke-width="1.5"/>
<path d="M159.2 287.9H202.2" stroke="#0000ff" stroke-width="1.6" stroke-dasharray="6.5 3 1.3 3"/>
<path d="M275.9 287.9H318.7" stroke="#ff0000" stroke-width="2.2" stroke-dasharray="6.6 2 2.8 2.1"/>
<path d="M420.5 287.9H463.6" stroke="#00ff00" stroke-width="1.8" stroke-dasharray="8.5 5"/>
<text class="sf" font-size="15" x="206" y="293.3">Reference</text>
<text class="sf" font-size="15" x="322" y="293.3" textLength="89" lengthAdjust="spacingAndGlyphs">SuperTwisting</text>
<text class="sf" font-size="15" x="467" y="293.3">INDI_OB</text>
</svg></body></html>
